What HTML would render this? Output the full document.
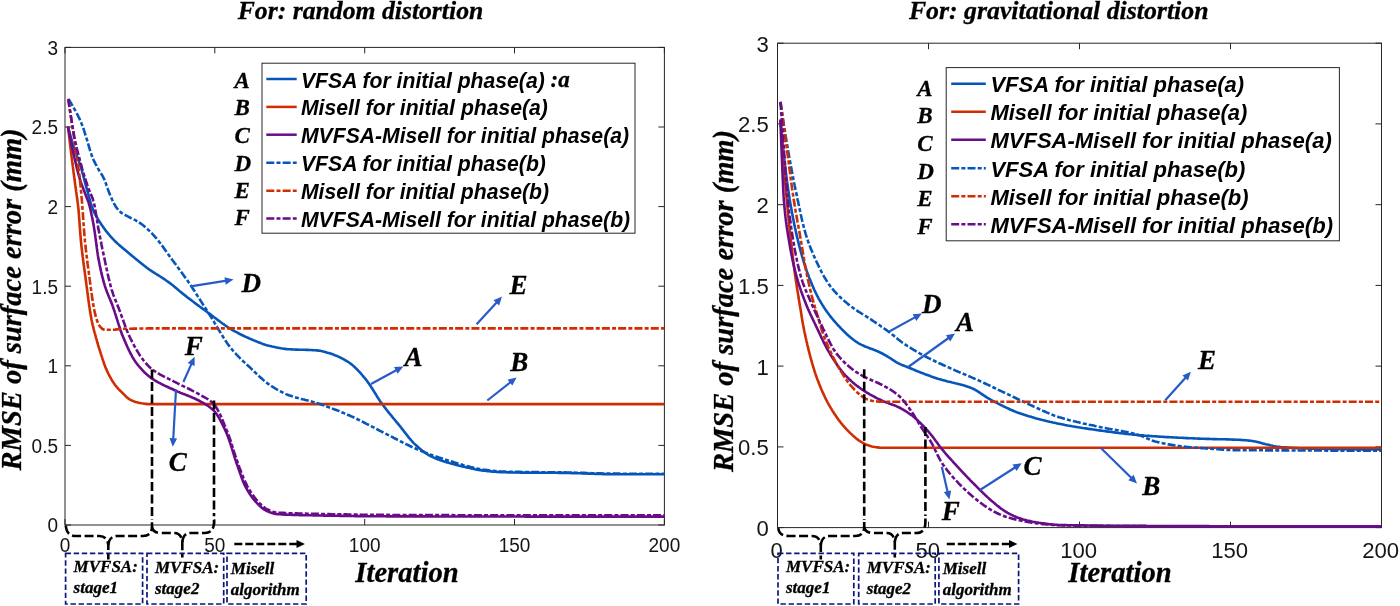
<!DOCTYPE html>
<html lang="en">
<head>
<meta charset="utf-8">
<title>RMSE of surface error vs iteration</title>
<style>
html,body{margin:0;padding:0;background:#fff;}
body{width:1400px;height:606px;overflow:hidden;}
svg{display:block;}
</style>
</head>
<body>
<svg width="1400" height="606" viewBox="0 0 1400 606">
<rect width="1400" height="606" fill="#fff"/>
<text x="360.5" y="18.7" font-family='"Liberation Serif", serif' font-size="25.7" font-weight="bold" font-style="italic" fill="#000" text-anchor="middle" stroke="#000" stroke-width="0.3">For: random distortion</text>
<text x="1058.7" y="19.3" font-family='"Liberation Serif", serif' font-size="25.8" font-weight="bold" font-style="italic" fill="#000" text-anchor="middle" stroke="#000" stroke-width="0.3">For: gravitational distortion</text>
<rect x="65.0" y="47.4" width="599.4" height="477.6" fill="#fff" stroke="#262626" stroke-width="1"/>
<path d="M65.0 525.0 h6 M664.4 525.0 h-6" stroke="#262626" stroke-width="1" fill="none"/>
<text transform="translate(58.0 532.3) scale(0.96 1)" font-family='"Liberation Sans", sans-serif' font-size="19.8" fill="#151515" text-anchor="end">0</text>
<path d="M65.0 445.4 h6 M664.4 445.4 h-6" stroke="#262626" stroke-width="1" fill="none"/>
<text transform="translate(58.0 452.7) scale(0.96 1)" font-family='"Liberation Sans", sans-serif' font-size="19.8" fill="#151515" text-anchor="end">0.5</text>
<path d="M65.0 365.8 h6 M664.4 365.8 h-6" stroke="#262626" stroke-width="1" fill="none"/>
<text transform="translate(58.0 373.1) scale(0.96 1)" font-family='"Liberation Sans", sans-serif' font-size="19.8" fill="#151515" text-anchor="end">1</text>
<path d="M65.0 286.2 h6 M664.4 286.2 h-6" stroke="#262626" stroke-width="1" fill="none"/>
<text transform="translate(58.0 293.5) scale(0.96 1)" font-family='"Liberation Sans", sans-serif' font-size="19.8" fill="#151515" text-anchor="end">1.5</text>
<path d="M65.0 206.6 h6 M664.4 206.6 h-6" stroke="#262626" stroke-width="1" fill="none"/>
<text transform="translate(58.0 213.9) scale(0.96 1)" font-family='"Liberation Sans", sans-serif' font-size="19.8" fill="#151515" text-anchor="end">2</text>
<path d="M65.0 127.0 h6 M664.4 127.0 h-6" stroke="#262626" stroke-width="1" fill="none"/>
<text transform="translate(58.0 134.3) scale(0.96 1)" font-family='"Liberation Sans", sans-serif' font-size="19.8" fill="#151515" text-anchor="end">2.5</text>
<path d="M65.0 47.4 h6 M664.4 47.4 h-6" stroke="#262626" stroke-width="1" fill="none"/>
<text transform="translate(58.0 54.7) scale(0.96 1)" font-family='"Liberation Sans", sans-serif' font-size="19.8" fill="#151515" text-anchor="end">3</text>
<path d="M65.0 525.0 v-6 M65.0 47.4 v6" stroke="#262626" stroke-width="1" fill="none"/>
<text transform="translate(65.0 552.0) scale(0.96 1)" font-family='"Liberation Sans", sans-serif' font-size="19.8" fill="#151515" text-anchor="middle">0</text>
<path d="M214.8 525.0 v-6 M214.8 47.4 v6" stroke="#262626" stroke-width="1" fill="none"/>
<text transform="translate(214.8 552.0) scale(0.96 1)" font-family='"Liberation Sans", sans-serif' font-size="19.8" fill="#151515" text-anchor="middle">50</text>
<path d="M364.7 525.0 v-6 M364.7 47.4 v6" stroke="#262626" stroke-width="1" fill="none"/>
<text transform="translate(364.7 552.0) scale(0.96 1)" font-family='"Liberation Sans", sans-serif' font-size="19.8" fill="#151515" text-anchor="middle">100</text>
<path d="M514.5 525.0 v-6 M514.5 47.4 v6" stroke="#262626" stroke-width="1" fill="none"/>
<text transform="translate(514.5 552.0) scale(0.96 1)" font-family='"Liberation Sans", sans-serif' font-size="19.8" fill="#151515" text-anchor="middle">150</text>
<path d="M664.4 525.0 v-6 M664.4 47.4 v6" stroke="#262626" stroke-width="1" fill="none"/>
<text transform="translate(664.4 552.0) scale(0.96 1)" font-family='"Liberation Sans", sans-serif' font-size="19.8" fill="#151515" text-anchor="middle">200</text>
<path d="M68.0 126.6 68.3 127.8 68.6 128.9 68.9 130.1 69.2 131.2 69.5 132.4 69.8 133.5 70.2 134.7 70.5 135.8 70.8 137.0 71.1 138.1 71.5 139.3 71.8 140.4 72.1 141.6 72.5 142.7 72.8 143.9 73.2 145.0 73.5 146.1 73.9 147.3 74.2 148.4 74.6 149.5 75.0 150.6 75.4 151.8 75.8 152.9 76.2 154.0 76.6 155.1 77.0 156.2 77.4 157.4 77.9 158.5 78.3 159.6 78.7 160.8 79.1 161.9 79.5 163.0 79.9 164.2 80.3 165.3 80.6 166.5 81.0 167.7 81.4 168.8 81.7 170.0 82.0 171.2 82.3 172.3 82.7 173.5 83.0 174.7 83.3 175.8 83.6 177.0 83.9 178.2 84.2 179.3 84.5 180.5 84.8 181.6 85.1 182.8 85.4 183.9 85.7 185.1 86.1 186.2 86.4 187.4 86.7 188.6 87.0 189.7 87.3 190.9 87.7 192.1 88.0 193.2 88.3 194.4 88.6 195.5 88.9 196.7 89.2 197.8 89.5 199.0 89.9 200.1 90.2 201.3 90.5 202.4 90.9 203.5 91.2 204.7 91.6 205.8 92.0 206.9 92.4 208.0 92.8 209.1 93.3 210.1 93.7 211.2 94.2 212.3 94.7 213.3 95.3 214.4 95.8 215.4 96.4 216.5 97.0 217.5 97.6 218.5 98.2 219.6 98.8 220.6 99.5 221.6 100.1 222.6 100.8 223.6 101.4 224.6 102.1 225.5 102.8 226.5 103.5 227.5 104.2 228.5 104.9 229.4 105.6 230.4 106.3 231.3 107.1 232.2 107.8 233.2 108.6 234.1 109.3 235.0 110.1 235.9 110.9 236.8 111.7 237.7 112.5 238.6 113.3 239.4 114.2 240.3 115.0 241.1 115.9 242.0 116.7 242.8 117.6 243.6 118.5 244.4 119.4 245.2 120.3 246.0 121.2 246.8 122.1 247.5 123.0 248.3 123.9 249.1 124.9 249.8 125.8 250.6 126.7 251.3 127.6 252.1 128.6 252.9 129.5 253.7 130.4 254.4 131.3 255.2 132.2 256.0 133.2 256.7 134.1 257.5 135.0 258.3 135.9 259.0 136.8 259.8 137.8 260.6 138.7 261.3 139.6 262.1 140.6 262.8 141.5 263.6 142.4 264.3 143.4 265.1 144.3 265.8 145.3 266.5 146.2 267.3 147.2 268.0 148.1 268.7 149.1 269.4 150.1 270.1 151.1 270.7 152.1 271.4 153.1 272.1 154.1 272.7 155.1 273.3 156.1 274.0 157.1 274.6 158.1 275.2 159.2 275.9 160.2 276.5 161.2 277.1 162.2 277.8 163.2 278.4 164.2 279.1 165.2 279.8 166.2 280.5 167.2 281.2 168.2 281.9 169.2 282.6 170.1 283.3 171.1 284.1 172.0 284.8 173.0 285.6 173.9 286.3 174.8 287.1 175.7 287.8 176.7 288.6 177.6 289.4 178.5 290.1 179.4 290.9 180.4 291.7 181.3 292.4 182.2 293.2 183.1 293.9 184.1 294.7 185.0 295.4 186.0 296.2 186.9 296.9 187.8 297.7 188.8 298.4 189.8 299.1 190.7 299.8 191.7 300.6 192.6 301.3 193.6 302.0 194.5 302.7 195.5 303.4 196.5 304.2 197.4 304.9 198.4 305.6 199.3 306.3 200.3 307.0 201.3 307.7 202.2 308.4 203.2 309.1 204.2 309.8 205.2 310.6 206.1 311.3 207.1 312.0 208.1 312.7 209.0 313.4 210.0 314.1 211.0 314.8 211.9 315.5 212.9 316.3 213.8 317.0 214.8 317.7 215.8 318.4 216.7 319.2 217.7 319.9 218.6 320.6 219.6 321.3 220.5 322.0 221.5 322.7 222.5 323.5 223.5 324.1 224.4 324.8 225.4 325.5 226.4 326.2 227.4 326.9 228.4 327.5 229.4 328.2 230.4 328.8 231.4 329.4 232.9 330.3 234.4 331.1 235.9 331.9 237.4 332.7 238.9 333.5 240.4 334.3 241.9 335.0 243.4 335.7 244.9 336.5 246.4 337.1 247.9 337.8 249.4 338.5 250.9 339.1 252.4 339.7 253.9 340.4 255.4 341.0 256.9 341.6 258.4 342.3 259.9 342.8 261.4 343.4 262.9 344.0 264.4 344.5 265.9 345.0 267.4 345.4 268.9 345.8 270.4 346.1 271.9 346.5 273.4 346.8 274.9 347.1 276.4 347.4 277.9 347.7 279.4 348.0 280.9 348.3 282.4 348.5 283.9 348.7 285.4 348.9 286.9 349.1 288.4 349.2 289.9 349.3 291.4 349.4 292.9 349.5 294.4 349.5 295.9 349.6 297.4 349.6 298.9 349.7 300.4 349.7 301.9 349.8 303.4 349.8 304.9 349.8 306.4 349.9 307.9 349.9 309.4 350.0 310.9 350.0 312.4 350.1 313.9 350.2 315.4 350.3 316.9 350.4 318.4 350.6 319.9 350.8 321.4 351.1 322.9 351.4 324.4 351.8 325.9 352.2 327.4 352.7 328.9 353.1 330.4 353.6 331.9 354.1 333.4 354.6 334.9 355.2 336.4 355.7 337.9 356.4 339.4 357.1 340.9 357.8 342.4 358.6 343.9 359.4 345.4 360.3 346.9 361.2 348.0 361.8 349.0 362.5 350.0 363.2 350.9 363.9 351.9 364.6 352.8 365.4 353.7 366.2 354.6 367.0 355.5 367.9 356.4 368.7 357.2 369.6 358.0 370.5 358.9 371.4 359.7 372.2 360.5 373.1 361.3 374.0 362.1 375.0 362.9 375.9 363.6 376.8 364.4 377.7 365.2 378.6 366.0 379.6 366.7 380.5 367.4 381.5 368.1 382.5 368.8 383.5 369.5 384.5 370.2 385.5 370.9 386.5 371.5 387.5 372.2 388.5 372.8 389.5 373.4 390.6 374.1 391.6 374.7 392.6 375.3 393.6 376.0 394.6 376.6 395.7 377.2 396.7 377.9 397.7 378.5 398.7 379.2 399.7 379.8 400.7 380.5 401.7 381.2 402.6 381.9 403.6 382.6 404.6 383.3 405.5 384.0 406.5 384.7 407.4 385.5 408.4 386.2 409.3 386.9 410.3 387.7 411.2 388.4 412.1 389.2 413.1 389.9 414.0 390.7 414.9 391.5 415.8 392.2 416.8 393.0 417.7 393.7 418.6 394.5 419.5 395.3 420.5 396.0 421.4 396.8 422.3 397.6 423.2 398.3 424.2 399.1 425.1 399.9 426.0 400.6 427.0 401.4 427.9 402.1 428.9 402.8 429.8 403.6 430.8 404.3 431.7 405.0 432.7 405.8 433.6 406.5 434.5 407.3 435.5 408.0 436.4 408.7 437.4 409.5 438.3 410.3 439.2 411.0 440.1 411.8 441.0 412.6 441.9 413.4 442.8 414.2 443.6 415.1 444.4 416.0 445.2 416.9 446.0 417.7 446.8 418.6 447.6 419.6 448.4 420.5 449.2 421.4 449.9 422.3 450.7 423.3 451.4 424.2 452.1 425.2 452.8 426.2 453.5 427.2 454.1 428.2 454.8 429.2 455.4 430.7 456.2 432.2 456.9 433.7 457.6 435.2 458.3 436.7 458.9 438.2 459.4 439.7 460.0 441.2 460.5 442.7 461.0 444.2 461.5 445.7 461.9 447.2 462.4 448.7 462.8 450.2 463.3 451.7 463.7 453.2 464.1 454.7 464.5 456.2 464.9 457.7 465.3 459.2 465.7 460.7 466.0 462.2 466.4 463.7 466.7 465.2 467.0 466.7 467.4 468.2 467.7 469.7 468.1 471.2 468.4 472.7 468.8 474.2 469.1 475.7 469.4 477.2 469.7 478.7 470.0 480.2 470.2 481.7 470.4 483.2 470.6 484.7 470.8 486.2 471.0 487.7 471.1 489.2 471.3 490.7 471.4 492.2 471.6 493.7 471.7 495.2 471.8 496.7 471.9 498.2 472.0 499.7 472.1 501.2 472.2 502.7 472.3 504.2 472.3 505.7 472.3 507.2 472.4 508.7 472.4 510.2 472.4 511.7 472.4 513.2 472.5 514.7 472.5 516.2 472.5 517.7 472.5 519.2 472.5 520.7 472.6 522.2 472.6 523.7 472.6 525.2 472.6 526.7 472.6 528.2 472.6 529.7 472.6 531.2 472.7 532.7 472.7 534.2 472.7 535.7 472.7 537.2 472.7 538.7 472.7 540.2 472.7 541.7 472.7 543.2 472.7 544.7 472.8 546.2 472.8 547.7 472.8 549.2 472.8 550.7 472.8 552.2 472.8 553.7 472.8 555.2 472.8 556.7 472.8 558.2 472.9 559.7 472.9 561.2 472.9 562.7 472.9 564.2 472.9 565.7 473.0 567.2 473.0 568.7 473.0 570.2 473.0 571.7 473.1 573.2 473.1 574.7 473.1 576.2 473.2 577.7 473.2 579.2 473.3 580.7 473.3 582.2 473.4 583.7 473.4 585.2 473.5 586.7 473.5 588.2 473.6 589.7 473.6 591.2 473.7 592.7 473.8 594.2 473.8 595.7 473.9 597.2 473.9 598.7 474.0 600.2 474.0 601.7 474.0 603.2 474.1 604.7 474.1 606.2 474.1 607.7 474.2 609.2 474.2 610.7 474.2 612.2 474.2 613.7 474.2 615.2 474.2 616.7 474.2 618.2 474.2 619.7 474.2 621.2 474.2 622.7 474.2 624.2 474.2 625.7 474.2 627.2 474.2 628.7 474.3 630.2 474.3 631.7 474.3 633.2 474.3 634.7 474.3 636.2 474.3 637.7 474.3 639.2 474.3 640.7 474.3 642.2 474.3 643.7 474.3 645.2 474.3 646.7 474.3 648.2 474.3 649.7 474.3 651.2 474.3 652.7 474.3 654.2 474.3 655.7 474.3 657.2 474.3 658.7 474.3 660.2 474.3 661.7 474.3 663.2 474.3 664.4 474.3" fill="none" stroke="#0656ba" stroke-width="2.6" stroke-linejoin="round"/>
<path d="M68.0 126.6 68.2 127.9 68.3 129.2 68.5 130.5 68.6 131.8 68.8 133.1 68.9 134.4 69.1 135.7 69.2 137.0 69.4 138.3 69.5 139.5 69.7 140.8 69.8 142.1 70.0 143.3 70.1 144.6 70.3 145.8 70.4 147.1 70.6 148.3 70.7 149.6 70.9 150.8 71.0 152.0 71.2 153.3 71.3 154.5 71.5 155.7 71.6 156.9 71.8 158.1 71.9 159.3 72.1 160.5 72.2 161.7 72.4 162.9 72.5 164.1 72.7 165.2 72.8 166.4 73.0 167.6 73.1 168.8 73.3 170.0 73.4 171.2 73.6 172.4 73.7 173.6 73.9 174.7 74.1 175.9 74.2 177.1 74.4 178.3 74.5 179.5 74.7 180.7 74.9 181.9 75.0 183.1 75.2 184.3 75.3 185.4 75.5 186.6 75.6 187.8 75.8 189.0 76.0 190.2 76.1 191.4 76.3 192.5 76.5 193.7 76.6 194.9 76.8 196.1 77.0 197.3 77.1 198.5 77.3 199.7 77.5 200.9 77.6 202.1 77.8 203.3 77.9 204.5 78.1 205.8 78.2 207.1 78.4 208.5 78.5 210.0 78.7 211.7 78.8 213.5 79.0 215.4 79.1 217.3 79.3 219.4 79.4 221.5 79.6 223.6 79.7 225.8 79.9 227.9 80.0 230.0 80.2 232.1 80.3 234.0 80.5 235.9 80.6 237.7 80.8 239.3 80.9 240.8 81.1 242.3 81.2 243.8 81.4 245.2 81.5 246.6 81.7 248.0 81.8 249.3 82.0 250.6 82.1 251.9 82.3 253.2 82.4 254.5 82.6 255.7 82.7 256.9 82.9 258.1 83.0 259.3 83.2 260.5 83.3 261.7 83.5 262.8 83.6 264.0 83.8 265.2 84.0 266.4 84.1 267.6 84.3 268.8 84.4 270.0 84.6 271.1 84.8 272.3 84.9 273.5 85.1 274.7 85.3 275.9 85.4 277.1 85.6 278.3 85.7 279.5 85.9 280.7 86.1 281.9 86.2 283.1 86.4 284.3 86.5 285.4 86.7 286.6 86.8 287.8 87.0 289.0 87.2 290.2 87.3 291.4 87.5 292.6 87.6 293.8 87.8 295.0 87.9 296.1 88.1 297.3 88.3 298.5 88.4 299.7 88.6 300.9 88.7 302.1 88.9 303.2 89.1 304.4 89.2 305.6 89.4 306.8 89.6 308.0 89.8 309.1 89.9 310.3 90.1 311.5 90.3 312.7 90.5 313.8 90.7 315.0 90.9 316.2 91.1 317.3 91.3 318.5 91.5 319.6 91.8 320.8 92.0 322.0 92.3 323.1 92.5 324.3 92.8 325.4 93.1 326.6 93.3 327.7 93.6 328.8 93.9 330.0 94.2 331.1 94.5 332.3 94.9 333.5 95.2 334.6 95.5 335.8 95.8 336.9 96.1 338.1 96.5 339.2 96.8 340.4 97.1 341.5 97.4 342.7 97.8 343.8 98.1 345.0 98.4 346.1 98.8 347.2 99.1 348.4 99.5 349.5 99.9 350.7 100.2 351.8 100.6 352.9 100.9 354.1 101.3 355.2 101.7 356.4 102.1 357.5 102.4 358.6 102.8 359.8 103.2 360.9 103.6 362.0 103.9 363.2 104.3 364.3 104.7 365.4 105.2 366.5 105.6 367.6 106.0 368.7 106.5 369.7 107.0 370.8 107.5 371.9 108.0 373.0 108.5 374.0 109.1 375.1 109.6 376.1 110.2 377.2 110.8 378.2 111.4 379.3 112.0 380.3 112.6 381.3 113.2 382.3 113.9 383.3 114.6 384.2 115.3 385.2 116.0 386.1 116.7 387.0 117.5 387.9 118.3 388.8 119.1 389.6 120.0 390.5 120.8 391.3 121.7 392.2 122.5 393.0 123.4 393.9 124.2 394.7 125.1 395.6 125.9 396.4 126.8 397.2 127.7 398.0 128.6 398.7 129.6 399.3 131.1 400.1 132.6 400.8 134.1 401.4 135.6 401.9 137.1 402.3 138.6 402.7 140.1 403.0 141.6 403.3 143.1 403.5 144.6 403.8 146.1 403.9 147.6 404.1 149.1 404.1 150.6 404.1 152.1 404.1 153.6 404.1 155.1 404.1 156.6 404.1 158.1 404.1 159.6 404.1 161.1 404.1 162.6 404.1 164.1 404.1 165.6 404.1 167.1 404.1 168.6 404.1 170.1 404.1 171.6 404.1 173.1 404.1 174.6 404.1 176.1 404.1 177.6 404.1 179.1 404.1 180.6 404.1 182.1 404.1 183.6 404.1 185.1 404.1 186.6 404.1 188.1 404.1 189.6 404.1 191.1 404.1 192.6 404.1 194.1 404.1 195.6 404.1 197.1 404.1 198.6 404.1 200.1 404.1 201.6 404.1 203.1 404.1 204.6 404.1 206.1 404.1 207.6 404.1 209.1 404.1 210.6 404.1 212.1 404.1 213.6 404.1 215.1 404.1 216.6 404.1 218.1 404.1 219.6 404.1 221.1 404.1 222.6 404.1 224.1 404.1 225.6 404.1 227.1 404.1 228.6 404.1 230.1 404.1 231.6 404.1 233.1 404.1 234.6 404.1 236.1 404.1 237.6 404.1 239.1 404.1 240.6 404.1 242.1 404.1 243.6 404.1 245.1 404.1 246.6 404.1 248.1 404.1 249.6 404.1 251.1 404.1 252.6 404.1 254.1 404.1 255.6 404.1 257.1 404.1 258.6 404.1 260.1 404.1 261.6 404.1 263.1 404.1 264.6 404.1 266.1 404.1 267.6 404.1 269.1 404.1 270.6 404.1 272.1 404.1 273.6 404.1 275.1 404.1 276.6 404.1 278.1 404.1 279.6 404.1 281.1 404.1 282.6 404.1 284.1 404.1 285.6 404.1 287.1 404.1 288.6 404.1 290.1 404.1 291.6 404.1 293.1 404.1 294.6 404.1 296.1 404.1 297.6 404.1 299.1 404.1 300.6 404.1 302.1 404.1 303.6 404.1 305.1 404.1 306.6 404.1 308.1 404.1 309.6 404.1 311.1 404.1 312.6 404.1 314.1 404.1 315.6 404.1 317.1 404.1 318.6 404.1 320.1 404.1 321.6 404.1 323.1 404.1 324.6 404.1 326.1 404.1 327.6 404.1 329.1 404.1 330.6 404.1 332.1 404.1 333.6 404.1 335.1 404.1 336.6 404.1 338.1 404.1 339.6 404.1 341.1 404.1 342.6 404.1 344.1 404.1 345.6 404.1 347.1 404.1 348.6 404.1 350.1 404.1 351.6 404.1 353.1 404.1 354.6 404.1 356.1 404.1 357.6 404.1 359.1 404.1 360.6 404.1 362.1 404.1 363.6 404.1 365.1 404.1 366.6 404.1 368.1 404.1 369.6 404.1 371.1 404.1 372.6 404.1 374.1 404.1 375.6 404.1 377.1 404.1 378.6 404.1 380.1 404.1 381.6 404.1 383.1 404.1 384.6 404.1 386.1 404.1 387.6 404.1 389.1 404.1 390.6 404.1 392.1 404.1 393.6 404.1 395.1 404.1 396.6 404.1 398.1 404.1 399.6 404.1 401.1 404.1 402.6 404.1 404.1 404.1 405.6 404.1 407.1 404.1 408.6 404.1 410.1 404.1 411.6 404.1 413.1 404.1 414.6 404.1 416.1 404.1 417.6 404.1 419.1 404.1 420.6 404.1 422.1 404.1 423.6 404.1 425.1 404.1 426.6 404.1 428.1 404.1 429.6 404.1 431.1 404.1 432.6 404.1 434.1 404.1 435.6 404.1 437.1 404.1 438.6 404.1 440.1 404.1 441.6 404.1 443.1 404.1 444.6 404.1 446.1 404.1 447.6 404.1 449.1 404.1 450.6 404.1 452.1 404.1 453.6 404.1 455.1 404.1 456.6 404.1 458.1 404.1 459.6 404.1 461.1 404.1 462.6 404.1 464.1 404.1 465.6 404.1 467.1 404.1 468.6 404.1 470.1 404.1 471.6 404.1 473.1 404.1 474.6 404.1 476.1 404.1 477.6 404.1 479.1 404.1 480.6 404.1 482.1 404.1 483.6 404.1 485.1 404.1 486.6 404.1 488.1 404.1 489.6 404.1 491.1 404.1 492.6 404.1 494.1 404.1 495.6 404.1 497.1 404.1 498.6 404.1 500.1 404.1 501.6 404.1 503.1 404.1 504.6 404.1 506.1 404.1 507.6 404.1 509.1 404.1 510.6 404.1 512.1 404.1 513.6 404.1 515.1 404.1 516.6 404.1 518.1 404.1 519.6 404.1 521.1 404.1 522.6 404.1 524.1 404.1 525.6 404.1 527.1 404.1 528.6 404.1 530.1 404.1 531.6 404.1 533.1 404.1 534.6 404.1 536.1 404.1 537.6 404.1 539.1 404.1 540.6 404.1 542.1 404.1 543.6 404.1 545.1 404.1 546.6 404.1 548.1 404.1 549.6 404.1 551.1 404.1 552.6 404.1 554.1 404.1 555.6 404.1 557.1 404.1 558.6 404.1 560.1 404.1 561.6 404.1 563.1 404.1 564.6 404.1 566.1 404.1 567.6 404.1 569.1 404.1 570.6 404.1 572.1 404.1 573.6 404.1 575.1 404.1 576.6 404.1 578.1 404.1 579.6 404.1 581.1 404.1 582.6 404.1 584.1 404.1 585.6 404.1 587.1 404.1 588.6 404.1 590.1 404.1 591.6 404.1 593.1 404.1 594.6 404.1 596.1 404.1 597.6 404.1 599.1 404.1 600.6 404.1 602.1 404.1 603.6 404.1 605.1 404.1 606.6 404.1 608.1 404.1 609.6 404.1 611.1 404.1 612.6 404.1 614.1 404.1 615.6 404.1 617.1 404.1 618.6 404.1 620.1 404.1 621.6 404.1 623.1 404.1 624.6 404.1 626.1 404.1 627.6 404.1 629.1 404.1 630.6 404.1 632.1 404.1 633.6 404.1 635.1 404.1 636.6 404.1 638.1 404.1 639.6 404.1 641.1 404.1 642.6 404.1 644.1 404.1 645.6 404.1 647.1 404.1 648.6 404.1 650.1 404.1 651.6 404.1 653.1 404.1 654.6 404.1 656.1 404.1 657.6 404.1 659.1 404.1 660.6 404.1 662.1 404.1 663.6 404.1 664.4 404.1" fill="none" stroke="#d02e02" stroke-width="2.6" stroke-linejoin="round"/>
<path d="M68.0 126.6 68.2 127.8 68.4 129.0 68.7 130.1 68.9 131.3 69.1 132.5 69.4 133.7 69.6 134.8 69.8 136.0 70.1 137.2 70.3 138.3 70.5 139.5 70.8 140.7 71.0 141.9 71.2 143.0 71.5 144.2 71.7 145.4 72.0 146.5 72.2 147.7 72.5 148.9 72.7 150.0 73.0 151.2 73.2 152.4 73.5 153.5 73.8 154.7 74.0 155.9 74.3 157.0 74.6 158.2 74.8 159.4 75.1 160.6 75.4 161.7 75.6 162.9 75.9 164.0 76.2 165.2 76.5 166.4 76.7 167.5 77.0 168.7 77.3 169.8 77.6 171.0 77.9 172.2 78.2 173.3 78.5 174.5 78.8 175.6 79.1 176.7 79.5 177.9 79.8 179.0 80.2 180.1 80.5 181.2 80.9 182.4 81.3 183.5 81.7 184.6 82.1 185.7 82.5 186.8 83.0 187.9 83.4 189.0 83.8 190.2 84.3 191.3 84.7 192.4 85.1 193.5 85.6 194.7 86.0 195.8 86.4 196.9 86.9 198.0 87.3 199.1 87.7 200.2 88.2 201.4 88.6 202.6 88.9 203.8 89.3 205.0 89.6 206.1 89.9 207.3 90.2 208.5 90.5 209.7 90.8 210.9 91.0 212.1 91.3 213.3 91.5 214.5 91.8 215.7 92.0 216.8 92.3 218.0 92.5 219.2 92.7 220.4 92.9 221.6 93.2 222.8 93.4 224.0 93.6 225.1 93.8 226.3 94.0 227.6 94.2 228.8 94.4 230.0 94.6 231.2 94.8 232.4 94.9 233.6 95.1 234.8 95.3 236.0 95.4 237.2 95.6 238.4 95.7 239.6 95.9 240.8 96.1 242.0 96.2 243.1 96.4 244.3 96.5 245.5 96.7 246.7 96.8 247.9 97.0 249.1 97.2 250.3 97.3 251.4 97.5 252.6 97.7 253.8 97.8 254.9 98.0 256.1 98.2 257.3 98.4 258.4 98.6 259.6 98.9 260.7 99.1 261.9 99.3 263.1 99.5 264.2 99.8 265.4 100.0 266.6 100.3 267.7 100.5 268.9 100.8 270.1 101.0 271.2 101.3 272.4 101.6 273.5 101.8 274.7 102.1 275.8 102.4 277.0 102.7 278.1 103.0 279.3 103.3 280.4 103.6 281.6 103.9 282.7 104.3 283.9 104.6 285.0 104.9 286.1 105.3 287.2 105.7 288.4 106.1 289.5 106.5 290.6 106.9 291.7 107.3 292.8 107.8 293.9 108.2 295.0 108.7 296.1 109.1 297.2 109.6 298.3 110.0 299.4 110.5 300.5 111.0 301.6 111.4 302.8 111.9 303.9 112.3 305.0 112.7 306.2 113.1 307.3 113.5 308.5 113.9 309.6 114.3 310.8 114.7 311.9 115.0 313.1 115.4 314.2 115.8 315.4 116.1 316.5 116.5 317.7 116.9 318.8 117.2 319.9 117.6 321.1 117.9 322.2 118.3 323.4 118.7 324.5 119.0 325.6 119.4 326.8 119.8 327.9 120.1 329.0 120.5 330.2 120.9 331.3 121.3 332.4 121.7 333.5 122.1 334.6 122.6 335.7 123.0 336.8 123.5 337.9 124.0 339.0 124.4 340.1 124.9 341.2 125.4 342.3 125.8 343.4 126.3 344.5 126.8 345.6 127.3 346.7 127.8 347.8 128.3 348.8 128.8 349.9 129.3 351.0 129.9 352.1 130.4 353.1 130.9 354.2 131.5 355.2 132.1 356.3 132.6 357.3 133.2 358.3 133.9 359.3 134.5 360.3 135.1 361.3 135.8 362.3 136.5 363.2 137.3 364.2 138.0 365.1 138.7 366.0 139.5 366.9 140.3 367.8 141.1 368.7 141.9 369.6 142.7 370.5 143.5 371.3 144.3 372.2 145.2 373.0 146.1 373.8 147.0 374.6 147.9 375.4 148.8 376.1 149.7 376.9 150.7 377.6 151.6 378.3 152.6 378.9 153.6 379.6 154.6 380.2 155.6 380.9 156.7 381.5 158.2 382.3 159.7 383.1 161.2 383.9 162.7 384.7 164.2 385.4 165.7 386.1 167.2 386.8 168.7 387.5 170.2 388.2 171.7 388.8 173.2 389.5 174.7 390.2 176.2 390.9 177.7 391.6 179.2 392.2 180.7 392.9 182.2 393.5 183.7 394.1 185.2 394.6 186.7 395.2 188.2 395.8 189.7 396.4 191.2 397.0 192.7 397.7 194.2 398.3 195.7 399.0 197.2 399.8 198.7 400.5 200.2 401.3 201.7 402.1 203.2 402.9 204.7 403.8 206.2 404.7 207.2 405.4 208.2 406.0 209.2 406.7 210.1 407.5 211.1 408.2 212.0 409.0 212.9 409.8 213.8 410.7 214.6 411.6 215.4 412.6 216.2 413.5 216.9 414.5 217.5 415.6 218.2 416.6 218.8 417.6 219.4 418.7 220.0 419.7 220.6 420.8 221.2 421.9 221.7 423.0 222.3 424.0 222.8 425.1 223.3 426.2 223.9 427.3 224.4 428.4 224.9 429.5 225.4 430.6 225.9 431.7 226.4 432.8 226.9 433.9 227.3 435.0 227.8 436.2 228.2 437.3 228.6 438.5 229.0 439.6 229.4 440.8 229.8 441.9 230.2 443.1 230.6 444.2 230.9 445.4 231.3 446.5 231.7 447.7 232.0 448.8 232.4 450.0 232.7 451.1 233.1 452.3 233.4 453.4 233.8 454.5 234.1 455.7 234.5 456.8 234.9 458.0 235.2 459.1 235.6 460.2 236.0 461.4 236.3 462.5 236.7 463.6 237.1 464.7 237.5 465.9 237.9 467.0 238.3 468.2 238.7 469.3 239.1 470.4 239.5 471.6 239.9 472.7 240.3 473.8 240.7 474.9 241.1 476.1 241.5 477.2 241.9 478.3 242.3 479.4 242.7 480.5 243.1 481.6 243.6 482.7 244.1 483.8 244.6 484.8 245.1 485.9 245.6 486.9 246.2 488.0 246.8 489.0 247.4 490.1 248.0 491.1 248.6 492.1 249.2 493.1 249.8 494.1 250.5 495.1 251.2 496.1 251.9 497.0 252.6 498.0 253.3 498.9 254.0 499.8 254.8 500.7 255.6 501.6 256.4 502.5 257.2 503.4 258.0 504.2 258.9 505.1 259.7 505.9 260.6 506.7 261.5 507.5 262.4 508.3 263.3 509.0 264.3 509.6 265.3 510.2 266.8 511.0 268.3 511.6 269.8 512.3 271.3 512.8 272.8 513.3 274.3 513.7 275.8 513.9 277.3 514.1 278.8 514.2 280.3 514.3 281.8 514.4 283.3 514.5 284.8 514.6 286.3 514.6 287.8 514.7 289.3 514.8 290.8 514.8 292.3 514.9 293.8 514.9 295.3 515.0 296.8 515.0 298.3 515.0 299.8 515.1 301.3 515.1 302.8 515.1 304.3 515.2 305.8 515.2 307.3 515.2 308.8 515.3 310.3 515.3 311.8 515.3 313.3 515.4 314.8 515.4 316.3 515.4 317.8 515.5 319.3 515.5 320.8 515.5 322.3 515.5 323.8 515.6 325.3 515.6 326.8 515.6 328.3 515.7 329.8 515.7 331.3 515.7 332.8 515.7 334.3 515.8 335.8 515.8 337.3 515.8 338.8 515.8 340.3 515.9 341.8 515.9 343.3 515.9 344.8 515.9 346.3 515.9 347.8 516.0 349.3 516.0 350.8 516.0 352.3 516.0 353.8 516.0 355.3 516.1 356.8 516.1 358.3 516.1 359.8 516.1 361.3 516.1 362.8 516.2 364.3 516.2 365.8 516.2 367.3 516.2 368.8 516.2 370.3 516.2 371.8 516.2 373.3 516.3 374.8 516.3 376.3 516.3 377.8 516.3 379.3 516.3 380.8 516.3 382.3 516.3 383.8 516.3 385.3 516.3 386.8 516.4 388.3 516.4 389.8 516.4 391.3 516.4 392.8 516.4 394.3 516.4 395.8 516.4 397.3 516.4 398.8 516.4 400.3 516.4 401.8 516.4 403.3 516.4 404.8 516.4 406.3 516.4 407.8 516.4 409.3 516.4 410.8 516.4 412.3 516.4 413.8 516.4 415.3 516.4 416.8 516.4 418.3 516.4 419.8 516.4 421.3 516.4 422.8 516.4 424.3 516.4 425.8 516.4 427.3 516.4 428.8 516.4 430.3 516.4 431.8 516.4 433.3 516.5 434.8 516.5 436.3 516.5 437.8 516.5 439.3 516.5 440.8 516.5 442.3 516.5 443.8 516.5 445.3 516.5 446.8 516.5 448.3 516.5 449.8 516.5 451.3 516.5 452.8 516.5 454.3 516.5 455.8 516.5 457.3 516.5 458.8 516.5 460.3 516.5 461.8 516.5 463.3 516.5 464.8 516.5 466.3 516.5 467.8 516.5 469.3 516.5 470.8 516.5 472.3 516.5 473.8 516.5 475.3 516.5 476.8 516.5 478.3 516.5 479.8 516.5 481.3 516.5 482.8 516.5 484.3 516.5 485.8 516.5 487.3 516.5 488.8 516.5 490.3 516.5 491.8 516.5 493.3 516.5 494.8 516.5 496.3 516.5 497.8 516.5 499.3 516.5 500.8 516.5 502.3 516.5 503.8 516.5 505.3 516.5 506.8 516.5 508.3 516.5 509.8 516.5 511.3 516.5 512.8 516.5 514.3 516.5 515.8 516.5 517.3 516.5 518.8 516.5 520.3 516.5 521.8 516.5 523.3 516.5 524.8 516.5 526.3 516.6 527.8 516.6 529.3 516.6 530.8 516.6 532.3 516.6 533.8 516.6 535.3 516.6 536.8 516.6 538.3 516.6 539.8 516.6 541.3 516.6 542.8 516.6 544.3 516.6 545.8 516.6 547.3 516.6 548.8 516.6 550.3 516.6 551.8 516.6 553.3 516.6 554.8 516.6 556.3 516.6 557.8 516.6 559.3 516.6 560.8 516.6 562.3 516.6 563.8 516.6 565.3 516.6 566.8 516.6 568.3 516.6 569.8 516.6 571.3 516.6 572.8 516.6 574.3 516.6 575.8 516.6 577.3 516.6 578.8 516.6 580.3 516.6 581.8 516.6 583.3 516.6 584.8 516.6 586.3 516.6 587.8 516.6 589.3 516.6 590.8 516.6 592.3 516.6 593.8 516.6 595.3 516.6 596.8 516.6 598.3 516.6 599.8 516.6 601.3 516.6 602.8 516.6 604.3 516.6 605.8 516.6 607.3 516.6 608.8 516.6 610.3 516.6 611.8 516.6 613.3 516.6 614.8 516.6 616.3 516.6 617.8 516.6 619.3 516.6 620.8 516.6 622.3 516.6 623.8 516.6 625.3 516.6 626.8 516.6 628.3 516.6 629.8 516.6 631.3 516.6 632.8 516.6 634.3 516.6 635.8 516.6 637.3 516.6 638.8 516.6 640.3 516.6 641.8 516.6 643.3 516.6 644.8 516.6 646.3 516.6 647.8 516.6 649.3 516.6 650.8 516.6 652.3 516.6 653.8 516.6 655.3 516.6 656.8 516.6 658.3 516.6 659.8 516.6 661.3 516.6 662.8 516.6 664.3 516.6 664.4 516.6" fill="none" stroke="#680c88" stroke-width="2.6" stroke-linejoin="round"/>
<path d="M68.3 99.0 69.0 100.0 69.7 101.0 70.3 102.0 71.0 103.0 71.6 104.1 72.2 105.1 72.8 106.2 73.4 107.2 74.0 108.3 74.6 109.3 75.2 110.4 75.8 111.4 76.3 112.5 76.9 113.6 77.5 114.6 78.0 115.7 78.5 116.8 79.1 117.9 79.6 119.0 80.1 120.1 80.6 121.2 81.1 122.3 81.5 123.5 82.0 124.6 82.4 125.7 82.9 126.9 83.3 128.0 83.6 129.2 84.0 130.4 84.4 131.5 84.7 132.7 85.1 133.8 85.4 135.0 85.8 136.1 86.1 137.3 86.5 138.4 86.9 139.5 87.2 140.7 87.6 141.8 87.9 143.0 88.3 144.2 88.6 145.3 88.9 146.5 89.3 147.6 89.6 148.8 89.9 149.9 90.3 151.1 90.6 152.2 91.0 153.3 91.4 154.4 91.7 155.5 92.2 156.6 92.6 157.7 93.0 158.8 93.5 159.9 94.0 160.9 94.5 162.0 95.1 163.0 95.6 164.1 96.2 165.1 96.7 166.2 97.3 167.2 97.9 168.3 98.5 169.3 99.1 170.3 99.7 171.4 100.3 172.4 101.0 173.4 101.6 174.4 102.3 175.4 102.9 176.5 103.4 177.6 104.0 178.7 104.5 179.8 105.0 181.0 105.4 182.1 105.8 183.3 106.2 184.4 106.6 185.6 107.0 186.7 107.4 187.8 107.8 189.0 108.2 190.1 108.6 191.2 109.0 192.3 109.5 193.4 109.9 194.5 110.4 195.6 110.8 196.7 111.3 197.8 111.8 198.9 112.3 200.0 112.8 201.0 113.3 202.1 113.8 203.1 114.4 204.2 115.0 205.2 115.5 206.2 116.2 207.2 116.8 208.1 117.6 209.0 118.3 209.9 119.1 210.8 120.0 211.6 120.8 212.4 121.8 213.1 122.8 213.7 123.8 214.3 125.3 215.1 126.8 215.9 128.3 216.7 129.8 217.5 131.3 218.2 132.8 218.9 134.3 219.6 135.8 220.4 137.3 221.3 138.8 222.2 139.8 222.9 140.8 223.6 141.8 224.3 142.7 225.0 143.7 225.8 144.6 226.6 145.5 227.3 146.4 228.1 147.3 228.9 148.2 229.8 149.1 230.6 150.0 231.4 150.8 232.3 151.7 233.1 152.5 234.0 153.3 234.9 154.1 235.8 154.9 236.7 155.7 237.6 156.5 238.5 157.2 239.5 158.0 240.4 158.8 241.3 159.5 242.3 160.3 243.2 161.0 244.2 161.7 245.2 162.4 246.1 163.1 247.1 163.8 248.1 164.5 249.1 165.2 250.1 165.9 251.0 166.6 252.0 167.3 253.0 168.0 254.0 168.7 254.9 169.4 255.9 170.1 256.9 170.8 257.8 171.5 258.8 172.2 259.8 172.9 260.7 173.7 261.7 174.4 262.7 175.1 263.6 175.8 264.6 176.5 265.6 177.2 266.5 177.9 267.5 178.7 268.5 179.4 269.4 180.1 270.4 180.8 271.4 181.5 272.3 182.2 273.3 182.9 274.3 183.6 275.2 184.3 276.2 185.0 277.2 185.7 278.2 186.4 279.2 187.1 280.1 187.8 281.1 188.5 282.1 189.1 283.1 189.8 284.1 190.5 285.1 191.2 286.1 191.8 287.1 192.5 288.1 193.1 289.1 193.8 290.1 194.5 291.1 195.1 292.1 195.8 293.1 196.4 294.2 197.1 295.2 197.7 296.2 198.4 297.2 199.0 298.2 199.7 299.2 200.3 300.2 201.0 301.2 201.6 302.2 202.3 303.3 202.9 304.3 203.5 305.3 204.2 306.3 204.8 307.3 205.5 308.3 206.1 309.3 206.8 310.3 207.4 311.3 208.1 312.3 208.7 313.4 209.4 314.4 210.0 315.4 210.7 316.4 211.3 317.4 211.9 318.5 212.5 319.5 213.2 320.5 213.8 321.5 214.4 322.6 215.0 323.6 215.6 324.6 216.3 325.7 216.9 326.7 217.5 327.7 218.1 328.7 218.7 329.8 219.3 330.8 220.0 331.8 220.6 332.8 221.2 333.9 221.8 334.9 222.5 335.9 223.1 336.9 223.7 337.9 224.4 338.9 225.0 339.9 225.7 340.9 226.4 341.9 227.0 342.9 227.7 343.9 228.4 344.9 229.1 345.8 229.8 346.8 230.6 347.7 231.3 348.6 232.1 349.5 232.8 350.5 233.6 351.4 234.4 352.3 235.2 353.1 236.0 354.0 236.8 354.9 237.7 355.7 238.5 356.6 239.3 357.4 240.2 358.3 241.0 359.1 241.9 359.9 242.8 360.8 243.6 361.6 244.5 362.4 245.4 363.2 246.3 364.0 247.2 364.9 248.0 365.7 248.9 366.5 249.8 367.3 250.7 368.1 251.5 369.0 252.4 369.8 253.3 370.6 254.1 371.5 255.0 372.3 255.9 373.1 256.7 374.0 257.6 374.8 258.5 375.6 259.3 376.4 260.2 377.2 261.1 378.0 262.0 378.8 262.9 379.6 263.8 380.4 264.7 381.2 265.6 381.9 266.6 382.7 267.5 383.4 268.5 384.1 269.5 384.8 270.5 385.4 271.5 386.1 272.5 386.7 273.5 387.4 274.5 388.0 275.5 388.6 277.0 389.5 278.5 390.3 280.0 391.1 281.5 391.9 283.0 392.7 284.5 393.4 286.0 394.1 287.5 394.7 289.0 395.3 290.5 395.8 292.0 396.3 293.5 396.8 295.0 397.3 296.5 397.7 298.0 398.1 299.5 398.5 301.0 398.9 302.5 399.3 304.0 399.6 305.5 400.0 307.0 400.3 308.5 400.7 310.0 401.1 311.5 401.5 313.0 401.9 314.5 402.3 316.0 402.8 317.5 403.3 319.0 403.8 320.5 404.3 322.0 404.8 323.5 405.3 325.0 405.8 326.5 406.4 328.0 406.9 329.5 407.5 331.0 408.0 332.5 408.6 334.0 409.2 335.5 409.7 337.0 410.3 338.5 410.9 340.0 411.5 341.5 412.2 343.0 412.8 344.5 413.4 346.0 414.0 347.5 414.7 349.0 415.3 350.5 416.0 352.0 416.6 353.5 417.3 355.0 418.0 356.5 418.8 358.0 419.5 359.5 420.2 361.0 421.0 362.5 421.7 364.0 422.5 365.5 423.3 367.0 424.1 368.5 424.8 370.0 425.6 371.5 426.4 373.0 427.2 374.5 428.0 376.0 428.7 377.5 429.5 379.0 430.3 380.5 431.1 382.0 431.8 383.5 432.6 385.0 433.3 386.5 434.1 388.0 434.9 389.5 435.6 391.0 436.4 392.5 437.2 394.0 438.0 395.5 438.7 397.0 439.5 398.5 440.3 400.0 441.1 401.5 441.8 403.0 442.6 404.5 443.3 406.0 444.1 407.5 444.8 409.0 445.5 410.5 446.3 412.0 447.0 413.5 447.6 415.0 448.3 416.5 449.0 418.0 449.6 419.5 450.3 421.0 450.9 422.5 451.5 424.0 452.1 425.5 452.7 427.0 453.3 428.5 453.9 430.0 454.5 431.5 455.0 433.0 455.5 434.5 456.1 436.0 456.6 437.5 457.1 439.0 457.6 440.5 458.0 442.0 458.5 443.5 459.0 445.0 459.5 446.5 459.9 448.0 460.4 449.5 460.9 451.0 461.3 452.5 461.8 454.0 462.3 455.5 462.7 457.0 463.2 458.5 463.7 460.0 464.1 461.5 464.5 463.0 465.0 464.5 465.4 466.0 465.8 467.5 466.2 469.0 466.6 470.5 467.0 472.0 467.3 473.5 467.7 475.0 468.1 476.5 468.4 478.0 468.7 479.5 469.0 481.0 469.3 482.5 469.5 484.0 469.7 485.5 469.9 487.0 470.1 488.5 470.3 490.0 470.5 491.5 470.7 493.0 470.8 494.5 471.0 496.0 471.1 497.5 471.2 499.0 471.4 500.5 471.5 502.0 471.5 503.5 471.6 505.0 471.6 506.5 471.7 508.0 471.7 509.5 471.7 511.0 471.8 512.5 471.8 514.0 471.8 515.5 471.9 517.0 471.9 518.5 471.9 520.0 471.9 521.5 472.0 523.0 472.0 524.5 472.0 526.0 472.0 527.5 472.0 529.0 472.1 530.5 472.1 532.0 472.1 533.5 472.1 535.0 472.1 536.5 472.1 538.0 472.1 539.5 472.2 541.0 472.2 542.5 472.2 544.0 472.2 545.5 472.2 547.0 472.2 548.5 472.2 550.0 472.3 551.5 472.3 553.0 472.3 554.5 472.3 556.0 472.3 557.5 472.3 559.0 472.3 560.5 472.4 562.0 472.4 563.5 472.4 565.0 472.4 566.5 472.5 568.0 472.5 569.5 472.5 571.0 472.5 572.5 472.6 574.0 472.6 575.5 472.7 577.0 472.7 578.5 472.7 580.0 472.8 581.5 472.8 583.0 472.9 584.5 472.9 586.0 473.0 587.5 473.0 589.0 473.1 590.5 473.1 592.0 473.2 593.5 473.2 595.0 473.3 596.5 473.3 598.0 473.3 599.5 473.4 601.0 473.4 602.5 473.5 604.0 473.5 605.5 473.5 607.0 473.5 608.5 473.6 610.0 473.6 611.5 473.6 613.0 473.6 614.5 473.6 616.0 473.6 617.5 473.6 619.0 473.6 620.5 473.7 622.0 473.7 623.5 473.7 625.0 473.7 626.5 473.7 628.0 473.7 629.5 473.7 631.0 473.7 632.5 473.7 634.0 473.7 635.5 473.7 637.0 473.7 638.5 473.7 640.0 473.8 641.5 473.8 643.0 473.8 644.5 473.8 646.0 473.8 647.5 473.8 649.0 473.8 650.5 473.8 652.0 473.8 653.5 473.8 655.0 473.8 656.5 473.8 658.0 473.8 659.5 473.8 661.0 473.8 662.5 473.8 664.0 473.8 664.4 473.8" fill="none" stroke="#0656ba" stroke-width="2.6" stroke-dasharray="8 2.2 4 2.1" stroke-linejoin="round"/>
<path d="M68.3 99.0 68.5 100.2 68.7 101.4 68.8 102.6 69.0 103.8 69.2 104.9 69.4 106.1 69.6 107.3 69.8 108.5 69.9 109.7 70.1 110.9 70.3 112.1 70.5 113.3 70.7 114.4 70.8 115.6 71.0 116.8 71.2 118.0 71.4 119.2 71.5 120.4 71.7 121.6 71.9 122.8 72.1 123.9 72.2 125.1 72.4 126.3 72.6 127.5 72.8 128.7 72.9 129.9 73.1 131.1 73.3 132.3 73.5 133.5 73.6 134.6 73.8 135.8 74.0 137.0 74.1 138.2 74.3 139.4 74.5 140.6 74.7 141.8 74.8 143.0 75.0 144.2 75.2 145.3 75.3 146.5 75.5 147.7 75.7 148.9 75.9 150.1 76.0 151.3 76.2 152.4 76.4 153.6 76.6 154.8 76.7 156.0 76.9 157.2 77.1 158.4 77.3 159.6 77.4 160.8 77.6 162.0 77.8 163.2 77.9 164.4 78.1 165.6 78.3 166.7 78.4 167.9 78.6 169.1 78.8 170.3 78.9 171.5 79.1 172.7 79.2 174.0 79.4 175.2 79.5 176.5 79.7 177.7 79.8 179.0 80.0 180.4 80.1 181.8 80.3 183.2 80.4 184.7 80.6 186.2 80.7 187.8 80.9 189.4 81.0 191.0 81.2 192.7 81.3 194.3 81.5 196.0 81.6 197.7 81.8 199.5 81.9 201.2 82.1 203.1 82.2 205.0 82.4 207.0 82.5 209.0 82.7 211.1 82.8 213.2 83.0 215.4 83.1 217.5 83.3 219.7 83.4 221.8 83.6 224.0 83.7 226.1 83.9 228.1 84.0 230.1 84.2 232.1 84.3 234.0 84.5 235.8 84.6 237.5 84.8 239.1 84.9 240.7 85.1 242.2 85.2 243.6 85.4 245.1 85.5 246.5 85.7 247.8 85.8 249.2 86.0 250.5 86.1 251.8 86.3 253.1 86.4 254.3 86.6 255.6 86.7 256.8 86.9 258.0 87.0 259.2 87.2 260.3 87.3 261.5 87.5 262.7 87.6 263.9 87.8 265.1 87.9 266.3 88.1 267.4 88.3 268.6 88.4 269.8 88.6 271.0 88.8 272.2 88.9 273.4 89.1 274.6 89.2 275.8 89.4 277.0 89.6 278.2 89.7 279.4 89.9 280.5 90.0 281.7 90.2 282.9 90.3 284.1 90.5 285.3 90.7 286.5 90.8 287.7 91.0 288.9 91.1 290.1 91.3 291.3 91.4 292.4 91.6 293.6 91.8 294.8 91.9 296.0 92.1 297.2 92.3 298.3 92.4 299.5 92.6 300.7 92.8 301.8 93.0 303.0 93.2 304.2 93.4 305.3 93.6 306.5 93.8 307.6 94.0 308.8 94.3 310.0 94.5 311.1 94.8 312.3 95.0 313.4 95.3 314.6 95.5 315.7 95.8 316.8 96.2 317.9 96.5 319.0 96.9 320.1 97.3 321.2 97.7 322.3 98.2 323.4 98.7 324.4 99.2 325.4 99.8 326.3 100.6 327.2 101.4 328.0 102.2 328.8 103.2 329.4 104.7 329.6 106.2 329.7 107.7 329.8 109.2 329.8 110.7 329.8 112.2 329.7 113.7 329.7 115.2 329.6 116.7 329.4 118.2 329.3 119.7 329.1 121.2 329.0 122.7 328.9 124.2 328.8 125.7 328.8 127.2 328.8 128.7 328.7 130.2 328.7 131.7 328.7 133.2 328.6 134.7 328.6 136.2 328.6 137.7 328.6 139.2 328.5 140.7 328.5 142.2 328.5 143.7 328.5 145.2 328.5 146.7 328.5 148.2 328.4 149.7 328.4 151.2 328.4 152.7 328.4 154.2 328.4 155.7 328.4 157.2 328.4 158.7 328.4 160.2 328.4 161.7 328.4 163.2 328.4 164.7 328.4 166.2 328.4 167.7 328.4 169.2 328.4 170.7 328.4 172.2 328.4 173.7 328.4 175.2 328.4 176.7 328.4 178.2 328.4 179.7 328.4 181.2 328.4 182.7 328.4 184.2 328.4 185.7 328.4 187.2 328.4 188.7 328.4 190.2 328.4 191.7 328.4 193.2 328.4 194.7 328.4 196.2 328.4 197.7 328.4 199.2 328.4 200.7 328.4 202.2 328.4 203.7 328.4 205.2 328.4 206.7 328.4 208.2 328.4 209.7 328.4 211.2 328.4 212.7 328.4 214.2 328.4 215.7 328.4 217.2 328.4 218.7 328.4 220.2 328.4 221.7 328.4 223.2 328.4 224.7 328.4 226.2 328.4 227.7 328.4 229.2 328.4 230.7 328.4 232.2 328.4 233.7 328.4 235.2 328.4 236.7 328.4 238.2 328.4 239.7 328.4 241.2 328.4 242.7 328.4 244.2 328.4 245.7 328.4 247.2 328.4 248.7 328.4 250.2 328.4 251.7 328.4 253.2 328.4 254.7 328.4 256.2 328.4 257.7 328.4 259.2 328.4 260.7 328.4 262.2 328.4 263.7 328.4 265.2 328.4 266.7 328.4 268.2 328.4 269.7 328.4 271.2 328.4 272.7 328.4 274.2 328.4 275.7 328.4 277.2 328.4 278.7 328.4 280.2 328.4 281.7 328.4 283.2 328.4 284.7 328.4 286.2 328.4 287.7 328.4 289.2 328.4 290.7 328.4 292.2 328.4 293.7 328.4 295.2 328.4 296.7 328.4 298.2 328.4 299.7 328.4 301.2 328.4 302.7 328.4 304.2 328.4 305.7 328.4 307.2 328.4 308.7 328.4 310.2 328.4 311.7 328.4 313.2 328.4 314.7 328.4 316.2 328.4 317.7 328.4 319.2 328.4 320.7 328.4 322.2 328.4 323.7 328.4 325.2 328.4 326.7 328.4 328.2 328.4 329.7 328.4 331.2 328.4 332.7 328.4 334.2 328.4 335.7 328.4 337.2 328.4 338.7 328.4 340.2 328.4 341.7 328.4 343.2 328.4 344.7 328.4 346.2 328.4 347.7 328.4 349.2 328.4 350.7 328.4 352.2 328.4 353.7 328.4 355.2 328.4 356.7 328.4 358.2 328.4 359.7 328.4 361.2 328.4 362.7 328.4 364.2 328.4 365.7 328.4 367.2 328.4 368.7 328.4 370.2 328.4 371.7 328.4 373.2 328.4 374.7 328.4 376.2 328.4 377.7 328.4 379.2 328.4 380.7 328.4 382.2 328.4 383.7 328.4 385.2 328.4 386.7 328.4 388.2 328.4 389.7 328.4 391.2 328.4 392.7 328.4 394.2 328.4 395.7 328.4 397.2 328.4 398.7 328.4 400.2 328.4 401.7 328.4 403.2 328.4 404.7 328.4 406.2 328.4 407.7 328.4 409.2 328.4 410.7 328.4 412.2 328.4 413.7 328.4 415.2 328.4 416.7 328.4 418.2 328.4 419.7 328.4 421.2 328.4 422.7 328.4 424.2 328.4 425.7 328.4 427.2 328.4 428.7 328.4 430.2 328.4 431.7 328.4 433.2 328.4 434.7 328.4 436.2 328.4 437.7 328.4 439.2 328.4 440.7 328.4 442.2 328.4 443.7 328.4 445.2 328.4 446.7 328.4 448.2 328.4 449.7 328.4 451.2 328.4 452.7 328.4 454.2 328.4 455.7 328.4 457.2 328.4 458.7 328.4 460.2 328.4 461.7 328.4 463.2 328.4 464.7 328.4 466.2 328.4 467.7 328.4 469.2 328.4 470.7 328.4 472.2 328.4 473.7 328.4 475.2 328.4 476.7 328.4 478.2 328.4 479.7 328.4 481.2 328.4 482.7 328.4 484.2 328.4 485.7 328.4 487.2 328.4 488.7 328.4 490.2 328.4 491.7 328.4 493.2 328.4 494.7 328.4 496.2 328.4 497.7 328.4 499.2 328.4 500.7 328.4 502.2 328.4 503.7 328.4 505.2 328.4 506.7 328.4 508.2 328.4 509.7 328.4 511.2 328.4 512.7 328.4 514.2 328.4 515.7 328.4 517.2 328.4 518.7 328.4 520.2 328.4 521.7 328.4 523.2 328.4 524.7 328.4 526.2 328.4 527.7 328.4 529.2 328.4 530.7 328.4 532.2 328.4 533.7 328.4 535.2 328.4 536.7 328.4 538.2 328.4 539.7 328.4 541.2 328.4 542.7 328.4 544.2 328.4 545.7 328.4 547.2 328.4 548.7 328.4 550.2 328.4 551.7 328.4 553.2 328.4 554.7 328.4 556.2 328.4 557.7 328.4 559.2 328.4 560.7 328.4 562.2 328.4 563.7 328.4 565.2 328.4 566.7 328.4 568.2 328.4 569.7 328.4 571.2 328.4 572.7 328.4 574.2 328.4 575.7 328.4 577.2 328.4 578.7 328.4 580.2 328.4 581.7 328.4 583.2 328.4 584.7 328.4 586.2 328.4 587.7 328.4 589.2 328.4 590.7 328.4 592.2 328.4 593.7 328.4 595.2 328.4 596.7 328.4 598.2 328.4 599.7 328.4 601.2 328.4 602.7 328.4 604.2 328.4 605.7 328.4 607.2 328.4 608.7 328.4 610.2 328.4 611.7 328.4 613.2 328.4 614.7 328.4 616.2 328.4 617.7 328.4 619.2 328.4 620.7 328.4 622.2 328.4 623.7 328.4 625.2 328.4 626.7 328.4 628.2 328.4 629.7 328.4 631.2 328.4 632.7 328.4 634.2 328.4 635.7 328.4 637.2 328.4 638.7 328.4 640.2 328.4 641.7 328.4 643.2 328.4 644.7 328.4 646.2 328.4 647.7 328.4 649.2 328.4 650.7 328.4 652.2 328.4 653.7 328.4 655.2 328.4 656.7 328.4 658.2 328.4 659.7 328.4 661.2 328.4 662.7 328.4 664.2 328.4 664.4 328.4" fill="none" stroke="#d02e02" stroke-width="2.6" stroke-dasharray="8 2.2 4 2.1" stroke-linejoin="round"/>
<path d="M68.3 99.0 68.5 100.2 68.6 101.4 68.8 102.6 69.0 103.7 69.1 104.9 69.3 106.1 69.5 107.3 69.7 108.5 69.8 109.7 70.0 110.8 70.2 112.0 70.4 113.2 70.5 114.4 70.7 115.6 70.9 116.7 71.1 117.9 71.3 119.1 71.5 120.3 71.6 121.5 71.8 122.6 72.0 123.8 72.2 125.0 72.4 126.2 72.6 127.3 72.8 128.5 73.0 129.7 73.2 130.9 73.5 132.0 73.7 133.2 73.9 134.4 74.1 135.6 74.3 136.7 74.6 137.9 74.8 139.0 75.0 140.2 75.3 141.4 75.5 142.5 75.8 143.7 76.0 144.9 76.3 146.0 76.6 147.2 76.8 148.3 77.1 149.5 77.4 150.7 77.7 151.8 78.0 153.0 78.3 154.1 78.6 155.3 78.9 156.4 79.2 157.6 79.5 158.7 79.8 159.9 80.1 161.1 80.4 162.2 80.7 163.4 81.0 164.5 81.4 165.7 81.7 166.8 82.0 168.0 82.3 169.1 82.7 170.3 83.0 171.4 83.4 172.5 83.7 173.7 84.0 174.8 84.4 176.0 84.7 177.1 85.1 178.3 85.5 179.4 85.8 180.5 86.2 181.7 86.6 182.8 87.0 183.9 87.3 185.1 87.7 186.2 88.1 187.3 88.5 188.4 88.9 189.6 89.3 190.6 89.8 191.7 90.2 192.8 90.7 193.9 91.2 195.0 91.7 196.1 92.1 197.3 92.6 198.4 93.0 199.6 93.3 200.8 93.7 202.0 94.0 203.2 94.3 204.5 94.6 205.7 94.8 206.9 95.0 208.1 95.2 209.3 95.4 210.5 95.6 211.7 95.8 212.9 96.0 214.1 96.2 215.3 96.4 216.5 96.6 217.7 96.8 218.9 97.0 220.0 97.2 221.2 97.4 222.4 97.5 223.6 97.7 224.8 97.9 225.9 98.1 227.1 98.3 228.3 98.5 229.4 98.8 230.6 99.0 231.8 99.2 232.9 99.4 234.1 99.7 235.3 99.9 236.5 100.1 237.6 100.4 238.8 100.6 240.0 100.8 241.2 101.1 242.3 101.3 243.5 101.5 244.7 101.8 245.9 102.0 247.0 102.2 248.2 102.5 249.4 102.7 250.5 103.0 251.7 103.2 252.9 103.5 254.1 103.7 255.2 104.0 256.4 104.2 257.6 104.5 258.7 104.7 259.9 105.0 261.1 105.2 262.3 105.5 263.4 105.7 264.6 106.0 265.8 106.2 267.0 106.5 268.1 106.7 269.3 107.0 270.5 107.2 271.6 107.5 272.8 107.7 274.0 108.0 275.1 108.3 276.3 108.5 277.5 108.8 278.6 109.1 279.8 109.4 280.9 109.6 282.1 109.9 283.2 110.2 284.4 110.5 285.5 110.8 286.7 111.1 287.8 111.5 288.9 111.8 290.1 112.2 291.2 112.6 292.3 112.9 293.4 113.3 294.6 113.7 295.7 114.1 296.8 114.6 297.9 115.0 299.0 115.4 300.1 115.9 301.2 116.3 302.3 116.8 303.4 117.2 304.5 117.7 305.7 118.1 306.8 118.6 307.9 119.0 309.0 119.5 310.2 119.9 311.3 120.3 312.4 120.7 313.5 121.1 314.7 121.5 315.8 121.9 316.9 122.3 318.1 122.8 319.2 123.2 320.3 123.6 321.5 124.0 322.6 124.4 323.7 124.8 324.8 125.2 326.0 125.6 327.1 126.0 328.2 126.5 329.3 126.9 330.4 127.3 331.5 127.8 332.6 128.3 333.7 128.7 334.8 129.2 335.8 129.7 336.9 130.3 338.0 130.8 339.1 131.3 340.1 131.8 341.2 132.4 342.3 132.9 343.3 133.5 344.4 134.0 345.4 134.6 346.5 135.2 347.5 135.8 348.6 136.4 349.6 137.0 350.6 137.6 351.7 138.2 352.7 138.8 353.7 139.5 354.7 140.1 355.7 140.8 356.6 141.5 357.6 142.2 358.6 142.9 359.5 143.6 360.5 144.4 361.4 145.1 362.3 145.9 363.2 146.7 364.1 147.4 365.0 148.3 365.9 149.1 366.7 150.0 367.5 150.8 368.3 151.8 369.0 152.7 369.8 153.7 370.5 154.6 371.1 155.6 371.8 156.6 372.5 157.7 373.1 158.7 373.7 160.2 374.6 161.7 375.4 163.2 376.2 164.7 376.9 166.2 377.7 167.7 378.4 169.2 379.1 170.7 379.9 172.2 380.6 173.7 381.4 175.2 382.1 176.7 382.9 178.2 383.7 179.7 384.4 181.2 385.2 182.7 385.9 184.2 386.6 185.7 387.4 187.2 388.1 188.7 388.8 190.2 389.5 191.7 390.3 193.2 391.1 194.7 391.8 196.2 392.6 197.7 393.5 199.2 394.3 200.7 395.2 202.2 396.0 203.7 396.8 205.2 397.6 206.7 398.5 207.7 399.1 208.7 399.8 209.7 400.5 210.7 401.3 211.6 402.0 212.5 402.8 213.4 403.7 214.2 404.6 215.0 405.6 215.7 406.6 216.4 407.6 217.0 408.7 217.7 409.8 218.2 410.8 218.8 411.9 219.3 413.0 219.9 414.1 220.4 415.2 220.9 416.3 221.4 417.4 221.8 418.5 222.3 419.6 222.8 420.7 223.2 421.9 223.7 423.0 224.2 424.1 224.6 425.2 225.1 426.3 225.5 427.4 226.0 428.5 226.4 429.7 226.9 430.8 227.3 431.9 227.8 433.0 228.2 434.1 228.7 435.3 229.1 436.4 229.5 437.6 229.9 438.7 230.3 439.8 230.7 441.0 231.0 442.1 231.4 443.3 231.8 444.4 232.1 445.6 232.5 446.7 232.9 447.9 233.2 449.0 233.6 450.2 233.9 451.3 234.3 452.5 234.7 453.6 235.0 454.7 235.4 455.9 235.8 457.0 236.1 458.1 236.5 459.3 236.9 460.4 237.3 461.5 237.7 462.7 238.1 463.8 238.5 464.9 238.9 466.0 239.3 467.1 239.7 468.2 240.2 469.4 240.6 470.5 241.0 471.6 241.4 472.7 241.9 473.8 242.3 474.9 242.7 476.1 243.2 477.2 243.6 478.3 244.1 479.4 244.6 480.4 245.1 481.5 245.5 482.6 246.1 483.7 246.6 484.7 247.1 485.8 247.7 486.8 248.3 487.8 248.9 488.9 249.5 489.9 250.1 490.9 250.7 491.9 251.4 492.9 252.0 493.9 252.7 494.9 253.4 495.9 254.1 496.8 254.8 497.7 255.5 498.7 256.3 499.6 257.1 500.4 257.9 501.3 258.7 502.2 259.5 503.1 260.4 503.9 261.2 504.7 262.1 505.5 263.0 506.3 263.9 507.1 264.8 507.8 265.8 508.5 266.8 509.1 268.3 509.8 269.8 510.5 271.3 511.1 272.8 511.7 274.3 512.1 275.8 512.4 277.3 512.6 278.8 512.7 280.3 512.8 281.8 512.9 283.3 512.9 284.8 513.0 286.3 513.1 287.8 513.2 289.3 513.2 290.8 513.3 292.3 513.3 293.8 513.3 295.3 513.4 296.8 513.4 298.3 513.5 299.8 513.5 301.3 513.5 302.8 513.6 304.3 513.6 305.8 513.6 307.3 513.7 308.8 513.7 310.3 513.7 311.8 513.8 313.3 513.8 314.8 513.8 316.3 513.9 317.8 513.9 319.3 513.9 320.8 514.0 322.3 514.0 323.8 514.0 325.3 514.0 326.8 514.1 328.3 514.1 329.8 514.1 331.3 514.2 332.8 514.2 334.3 514.2 335.8 514.3 337.3 514.3 338.8 514.3 340.3 514.3 341.8 514.4 343.3 514.4 344.8 514.4 346.3 514.4 347.8 514.5 349.3 514.5 350.8 514.5 352.3 514.5 353.8 514.6 355.3 514.6 356.8 514.6 358.3 514.6 359.8 514.6 361.3 514.7 362.8 514.7 364.3 514.7 365.8 514.7 367.3 514.7 368.8 514.8 370.3 514.8 371.8 514.8 373.3 514.8 374.8 514.8 376.3 514.8 377.8 514.9 379.3 514.9 380.8 514.9 382.3 514.9 383.8 514.9 385.3 514.9 386.8 514.9 388.3 514.9 389.8 515.0 391.3 515.0 392.8 515.0 394.3 515.0 395.8 515.0 397.3 515.0 398.8 515.0 400.3 515.0 401.8 515.0 403.3 515.0 404.8 515.0 406.3 515.0 407.8 515.0 409.3 515.0 410.8 515.0 412.3 515.0 413.8 515.0 415.3 515.0 416.8 515.1 418.3 515.1 419.8 515.1 421.3 515.1 422.8 515.1 424.3 515.1 425.8 515.1 427.3 515.1 428.8 515.1 430.3 515.1 431.8 515.1 433.3 515.1 434.8 515.1 436.3 515.1 437.8 515.1 439.3 515.1 440.8 515.1 442.3 515.1 443.8 515.1 445.3 515.1 446.8 515.1 448.3 515.1 449.8 515.1 451.3 515.1 452.8 515.1 454.3 515.2 455.8 515.2 457.3 515.2 458.8 515.2 460.3 515.2 461.8 515.2 463.3 515.2 464.8 515.2 466.3 515.2 467.8 515.2 469.3 515.2 470.8 515.2 472.3 515.2 473.8 515.2 475.3 515.2 476.8 515.2 478.3 515.2 479.8 515.2 481.3 515.2 482.8 515.2 484.3 515.2 485.8 515.2 487.3 515.2 488.8 515.2 490.3 515.2 491.8 515.2 493.3 515.2 494.8 515.2 496.3 515.2 497.8 515.2 499.3 515.2 500.8 515.3 502.3 515.3 503.8 515.3 505.3 515.3 506.8 515.3 508.3 515.3 509.8 515.3 511.3 515.3 512.8 515.3 514.3 515.3 515.8 515.3 517.3 515.3 518.8 515.3 520.3 515.3 521.8 515.3 523.3 515.3 524.8 515.3 526.3 515.3 527.8 515.3 529.3 515.3 530.8 515.3 532.3 515.3 533.8 515.3 535.3 515.3 536.8 515.3 538.3 515.3 539.8 515.3 541.3 515.3 542.8 515.3 544.3 515.3 545.8 515.3 547.3 515.3 548.8 515.3 550.3 515.3 551.8 515.3 553.3 515.3 554.8 515.3 556.3 515.3 557.8 515.3 559.3 515.3 560.8 515.3 562.3 515.3 563.8 515.3 565.3 515.3 566.8 515.3 568.3 515.3 569.8 515.4 571.3 515.4 572.8 515.4 574.3 515.4 575.8 515.4 577.3 515.4 578.8 515.4 580.3 515.4 581.8 515.4 583.3 515.4 584.8 515.4 586.3 515.4 587.8 515.4 589.3 515.4 590.8 515.4 592.3 515.4 593.8 515.4 595.3 515.4 596.8 515.4 598.3 515.4 599.8 515.4 601.3 515.4 602.8 515.4 604.3 515.4 605.8 515.4 607.3 515.4 608.8 515.4 610.3 515.4 611.8 515.4 613.3 515.4 614.8 515.4 616.3 515.4 617.8 515.4 619.3 515.4 620.8 515.4 622.3 515.4 623.8 515.4 625.3 515.4 626.8 515.4 628.3 515.4 629.8 515.4 631.3 515.4 632.8 515.4 634.3 515.4 635.8 515.4 637.3 515.4 638.8 515.4 640.3 515.4 641.8 515.4 643.3 515.4 644.8 515.4 646.3 515.4 647.8 515.4 649.3 515.4 650.8 515.4 652.3 515.4 653.8 515.4 655.3 515.4 656.8 515.4 658.3 515.4 659.8 515.4 661.3 515.4 662.8 515.4 664.3 515.4 664.4 515.4" fill="none" stroke="#680c88" stroke-width="2.6" stroke-dasharray="8 2.2 4 2.1" stroke-linejoin="round"/>
<rect x="262.0" y="63.2" width="373.0" height="170.0" fill="#fff" stroke="#262626" stroke-width="1"/>
<path d="M266.3 79.0 H296.7" stroke="#0656ba" stroke-width="2.5" fill="none"/>
<text x="301.0" y="87.6" font-family='"Liberation Sans", sans-serif' font-size="21.9" font-weight="bold" font-style="italic" fill="#000" textLength="243.7" lengthAdjust="spacingAndGlyphs">VFSA for initial phase(a)</text>
<text x="550.6" y="87.4" font-family='"Liberation Serif", serif' font-size="23" font-weight="bold" font-style="italic" fill="#000" text-anchor="start" stroke="#000" stroke-width="0.3">:a</text>
<path d="M266.3 106.9 H296.7" stroke="#d02e02" stroke-width="2.5" fill="none"/>
<text x="301.0" y="115.4" font-family='"Liberation Sans", sans-serif' font-size="21.9" font-weight="bold" font-style="italic" fill="#000" textLength="246.9" lengthAdjust="spacingAndGlyphs">Misell for initial phase(a)</text>
<path d="M266.3 134.7 H296.7" stroke="#680c88" stroke-width="2.5" fill="none"/>
<text x="301.0" y="143.3" font-family='"Liberation Sans", sans-serif' font-size="21.9" font-weight="bold" font-style="italic" fill="#000" textLength="328.0" lengthAdjust="spacingAndGlyphs">MVFSA-Misell for initial phase(a)</text>
<path d="M266.3 162.8 H296.7" stroke="#0656ba" stroke-width="2.5" stroke-dasharray="8 2.2 4 2.1" fill="none"/>
<text x="301.0" y="171.2" font-family='"Liberation Sans", sans-serif' font-size="21.9" font-weight="bold" font-style="italic" fill="#000" textLength="244.9" lengthAdjust="spacingAndGlyphs">VFSA for initial phase(b)</text>
<path d="M266.3 190.8 H296.7" stroke="#d02e02" stroke-width="2.5" stroke-dasharray="8 2.2 4 2.1" fill="none"/>
<text x="301.0" y="199.0" font-family='"Liberation Sans", sans-serif' font-size="21.9" font-weight="bold" font-style="italic" fill="#000" textLength="248.0" lengthAdjust="spacingAndGlyphs">Misell for initial phase(b)</text>
<path d="M266.3 218.6 H296.7" stroke="#680c88" stroke-width="2.5" stroke-dasharray="8 2.2 4 2.1" fill="none"/>
<text x="301.0" y="226.8" font-family='"Liberation Sans", sans-serif' font-size="21.9" font-weight="bold" font-style="italic" fill="#000" textLength="329.1" lengthAdjust="spacingAndGlyphs">MVFSA-Misell for initial phase(b)</text>
<text x="234.5" y="88.0" font-family='"Liberation Serif", serif' font-size="23" font-weight="bold" font-style="italic" fill="#000" text-anchor="start" stroke="#000" stroke-width="0.3">A</text>
<text x="234.5" y="115.3" font-family='"Liberation Serif", serif' font-size="23" font-weight="bold" font-style="italic" fill="#000" text-anchor="start" stroke="#000" stroke-width="0.3">B</text>
<text x="234.5" y="143.0" font-family='"Liberation Serif", serif' font-size="23" font-weight="bold" font-style="italic" fill="#000" text-anchor="start" stroke="#000" stroke-width="0.3">C</text>
<text x="234.5" y="170.5" font-family='"Liberation Serif", serif' font-size="23" font-weight="bold" font-style="italic" fill="#000" text-anchor="start" stroke="#000" stroke-width="0.3">D</text>
<text x="234.5" y="197.9" font-family='"Liberation Serif", serif' font-size="23" font-weight="bold" font-style="italic" fill="#000" text-anchor="start" stroke="#000" stroke-width="0.3">E</text>
<text x="234.5" y="225.0" font-family='"Liberation Serif", serif' font-size="23" font-weight="bold" font-style="italic" fill="#000" text-anchor="start" stroke="#000" stroke-width="0.3">F</text>
<rect x="777.5" y="43.2" width="604.0" height="484.4" fill="#fff" stroke="#262626" stroke-width="1"/>
<path d="M777.5 527.6 h6 M1381.5 527.6 h-6" stroke="#262626" stroke-width="1" fill="none"/>
<text transform="translate(768.7 536.1) scale(1.035 1)" font-family='"Liberation Sans", sans-serif' font-size="21.4" fill="#151515" text-anchor="end">0</text>
<path d="M777.5 446.9 h6 M1381.5 446.9 h-6" stroke="#262626" stroke-width="1" fill="none"/>
<text transform="translate(768.7 455.3) scale(1.035 1)" font-family='"Liberation Sans", sans-serif' font-size="21.4" fill="#151515" text-anchor="end">0.5</text>
<path d="M777.5 366.1 h6 M1381.5 366.1 h-6" stroke="#262626" stroke-width="1" fill="none"/>
<text transform="translate(768.7 374.6) scale(1.035 1)" font-family='"Liberation Sans", sans-serif' font-size="21.4" fill="#151515" text-anchor="end">1</text>
<path d="M777.5 285.4 h6 M1381.5 285.4 h-6" stroke="#262626" stroke-width="1" fill="none"/>
<text transform="translate(768.7 293.9) scale(1.035 1)" font-family='"Liberation Sans", sans-serif' font-size="21.4" fill="#151515" text-anchor="end">1.5</text>
<path d="M777.5 204.7 h6 M1381.5 204.7 h-6" stroke="#262626" stroke-width="1" fill="none"/>
<text transform="translate(768.7 213.1) scale(1.035 1)" font-family='"Liberation Sans", sans-serif' font-size="21.4" fill="#151515" text-anchor="end">2</text>
<path d="M777.5 123.9 h6 M1381.5 123.9 h-6" stroke="#262626" stroke-width="1" fill="none"/>
<text transform="translate(768.7 132.4) scale(1.035 1)" font-family='"Liberation Sans", sans-serif' font-size="21.4" fill="#151515" text-anchor="end">2.5</text>
<path d="M777.5 43.2 h6 M1381.5 43.2 h-6" stroke="#262626" stroke-width="1" fill="none"/>
<text transform="translate(768.7 51.7) scale(1.035 1)" font-family='"Liberation Sans", sans-serif' font-size="21.4" fill="#151515" text-anchor="end">3</text>
<path d="M777.5 527.6 v-6 M777.5 43.2 v6" stroke="#262626" stroke-width="1" fill="none"/>
<text transform="translate(776.7 557.6) scale(1.035 1)" font-family='"Liberation Sans", sans-serif' font-size="21.4" fill="#151515" text-anchor="middle">0</text>
<path d="M928.5 527.6 v-6 M928.5 43.2 v6" stroke="#262626" stroke-width="1" fill="none"/>
<text transform="translate(927.7 557.6) scale(1.035 1)" font-family='"Liberation Sans", sans-serif' font-size="21.4" fill="#151515" text-anchor="middle">50</text>
<path d="M1079.5 527.6 v-6 M1079.5 43.2 v6" stroke="#262626" stroke-width="1" fill="none"/>
<text transform="translate(1078.7 557.6) scale(1.035 1)" font-family='"Liberation Sans", sans-serif' font-size="21.4" fill="#151515" text-anchor="middle">100</text>
<path d="M1230.5 527.6 v-6 M1230.5 43.2 v6" stroke="#262626" stroke-width="1" fill="none"/>
<text transform="translate(1229.7 557.6) scale(1.035 1)" font-family='"Liberation Sans", sans-serif' font-size="21.4" fill="#151515" text-anchor="middle">150</text>
<path d="M1381.5 527.6 v-6 M1381.5 43.2 v6" stroke="#262626" stroke-width="1" fill="none"/>
<text transform="translate(1380.7 557.6) scale(1.035 1)" font-family='"Liberation Sans", sans-serif' font-size="21.4" fill="#151515" text-anchor="middle">200</text>
<path d="M780.5 119.7 780.6 121.4 780.8 123.1 780.9 124.8 781.1 126.5 781.2 128.1 781.4 129.8 781.5 131.4 781.7 133.0 781.8 134.6 782.0 136.2 782.1 137.8 782.3 139.4 782.4 140.9 782.6 142.5 782.7 144.0 782.9 145.5 783.0 147.0 783.2 148.5 783.3 150.0 783.5 151.4 783.6 152.8 783.8 154.3 783.9 155.7 784.1 157.1 784.2 158.4 784.4 159.8 784.5 161.1 784.7 162.4 784.8 163.7 785.0 165.0 785.1 166.3 785.3 167.5 785.4 168.8 785.6 170.0 785.7 171.2 785.9 172.4 786.0 173.6 786.2 174.8 786.4 176.0 786.5 177.2 786.7 178.4 786.8 179.6 787.0 180.8 787.1 181.9 787.3 183.1 787.4 184.3 787.6 185.5 787.8 186.7 787.9 187.8 788.1 189.0 788.3 190.2 788.5 191.4 788.6 192.6 788.8 193.7 789.0 194.9 789.2 196.1 789.4 197.3 789.5 198.4 789.7 199.6 789.9 200.8 790.1 202.0 790.3 203.2 790.5 204.3 790.7 205.5 790.9 206.7 791.1 207.9 791.4 209.0 791.6 210.2 791.8 211.4 792.0 212.6 792.2 213.7 792.4 214.9 792.7 216.1 792.9 217.3 793.1 218.4 793.3 219.6 793.6 220.8 793.8 221.9 794.0 223.1 794.3 224.3 794.5 225.4 794.8 226.6 795.0 227.8 795.3 228.9 795.5 230.1 795.8 231.3 796.0 232.4 796.3 233.6 796.6 234.8 796.8 235.9 797.1 237.1 797.4 238.2 797.7 239.4 797.9 240.6 798.2 241.7 798.5 242.9 798.8 244.0 799.1 245.2 799.4 246.4 799.7 247.5 800.0 248.7 800.3 249.8 800.6 251.0 800.9 252.1 801.3 253.3 801.6 254.4 801.9 255.6 802.2 256.7 802.6 257.9 802.9 259.0 803.2 260.1 803.6 261.3 803.9 262.4 804.3 263.6 804.7 264.7 805.0 265.8 805.4 267.0 805.8 268.1 806.2 269.2 806.5 270.3 806.9 271.5 807.3 272.6 807.7 273.7 808.2 274.8 808.6 275.9 809.0 277.1 809.4 278.2 809.9 279.3 810.3 280.4 810.8 281.5 811.2 282.6 811.7 283.7 812.1 284.8 812.6 285.9 813.1 287.0 813.5 288.1 814.0 289.2 814.5 290.3 815.0 291.3 815.5 292.4 816.1 293.5 816.6 294.5 817.1 295.6 817.7 296.7 818.2 297.7 818.8 298.8 819.4 299.8 820.0 300.8 820.6 301.8 821.2 302.9 821.8 303.9 822.4 304.9 823.1 305.9 823.7 306.9 824.4 307.9 825.0 308.9 825.7 309.9 826.4 310.9 827.1 311.9 827.7 312.8 828.5 313.8 829.2 314.7 829.9 315.7 830.6 316.6 831.4 317.6 832.1 318.5 832.9 319.4 833.6 320.3 834.4 321.2 835.2 322.1 836.0 323.0 836.8 323.9 837.6 324.8 838.4 325.7 839.3 326.5 840.1 327.4 840.9 328.3 841.7 329.1 842.6 330.0 843.4 330.8 844.3 331.7 845.1 332.5 846.0 333.3 846.8 334.2 847.7 335.0 848.6 335.8 849.5 336.6 850.4 337.3 851.3 338.1 852.2 338.8 853.2 339.6 854.1 340.3 855.1 341.0 856.1 341.7 857.1 342.3 858.1 343.0 859.1 343.6 860.6 344.4 862.1 345.1 863.6 345.8 865.1 346.5 866.6 347.1 868.1 347.6 869.6 348.2 871.1 348.8 872.6 349.3 874.1 349.9 875.6 350.5 877.1 351.1 878.6 351.7 880.1 352.5 881.6 353.2 883.1 354.0 884.6 354.8 886.1 355.7 887.6 356.6 889.1 357.5 890.6 358.4 891.6 359.1 892.6 359.8 893.6 360.4 894.6 361.1 895.6 361.7 896.6 362.4 898.1 363.2 899.6 363.9 901.1 364.6 902.6 365.2 904.1 365.8 905.6 366.4 907.1 367.0 908.6 367.6 910.1 368.2 911.6 368.8 913.1 369.4 914.6 370.0 916.1 370.7 917.6 371.3 919.1 371.9 920.6 372.5 922.1 373.1 923.6 373.6 925.1 374.2 926.6 374.7 928.1 375.3 929.6 375.8 931.1 376.4 932.6 376.9 934.1 377.4 935.6 377.9 937.1 378.4 938.6 378.9 940.1 379.3 941.6 379.8 943.1 380.2 944.6 380.6 946.1 381.0 947.6 381.4 949.1 381.7 950.6 382.1 952.1 382.5 953.6 382.8 955.1 383.2 956.6 383.5 958.1 383.9 959.6 384.3 961.1 384.7 962.6 385.1 964.1 385.5 965.6 386.0 967.1 386.5 968.6 387.0 970.1 387.5 971.6 388.1 973.1 388.8 974.6 389.5 976.1 390.4 977.6 391.3 978.6 391.9 979.6 392.6 980.6 393.3 981.6 393.9 982.6 394.6 983.6 395.3 984.6 395.9 985.6 396.6 986.6 397.3 987.6 397.9 988.6 398.5 989.7 399.1 991.2 400.0 992.7 400.8 994.2 401.6 995.7 402.4 997.2 403.1 998.7 403.9 1000.2 404.7 1001.7 405.4 1003.2 406.2 1004.7 406.9 1006.2 407.6 1007.7 408.3 1009.2 409.0 1010.7 409.7 1012.2 410.3 1013.7 411.0 1015.2 411.6 1016.7 412.2 1018.2 412.7 1019.7 413.2 1021.2 413.7 1022.7 414.2 1024.2 414.7 1025.7 415.2 1027.2 415.7 1028.7 416.2 1030.2 416.6 1031.7 417.1 1033.2 417.5 1034.7 417.9 1036.2 418.4 1037.7 418.8 1039.2 419.2 1040.7 419.6 1042.2 420.0 1043.7 420.3 1045.2 420.7 1046.7 421.1 1048.2 421.4 1049.7 421.8 1051.2 422.1 1052.7 422.5 1054.2 422.8 1055.7 423.1 1057.2 423.4 1058.7 423.7 1060.2 424.0 1061.7 424.3 1063.2 424.6 1064.7 424.9 1066.2 425.2 1067.7 425.5 1069.2 425.7 1070.7 426.0 1072.2 426.3 1073.7 426.5 1075.2 426.8 1076.7 427.0 1078.2 427.3 1079.7 427.5 1081.2 427.7 1082.7 428.0 1084.2 428.2 1085.7 428.4 1087.2 428.6 1088.7 428.9 1090.2 429.1 1091.7 429.3 1093.2 429.5 1094.7 429.7 1096.2 429.9 1097.7 430.2 1099.2 430.4 1100.7 430.6 1102.2 430.8 1103.7 431.0 1105.2 431.2 1106.7 431.4 1108.2 431.6 1109.7 431.8 1111.2 432.0 1112.7 432.2 1114.2 432.4 1115.7 432.6 1117.2 432.8 1118.7 433.0 1120.2 433.2 1121.7 433.3 1123.2 433.5 1124.7 433.7 1126.2 433.9 1127.7 434.0 1129.2 434.2 1130.7 434.3 1132.2 434.5 1133.7 434.6 1135.2 434.8 1136.7 434.9 1138.2 435.1 1139.7 435.2 1141.2 435.3 1142.7 435.4 1144.2 435.6 1145.7 435.7 1147.2 435.8 1148.7 435.9 1150.2 436.0 1151.7 436.1 1153.2 436.2 1154.7 436.3 1156.2 436.4 1157.7 436.5 1159.2 436.6 1160.7 436.7 1162.2 436.8 1163.7 436.9 1165.2 437.0 1166.7 437.1 1168.2 437.1 1169.7 437.2 1171.2 437.3 1172.7 437.4 1174.2 437.5 1175.7 437.5 1177.2 437.6 1178.7 437.7 1180.2 437.8 1181.7 437.8 1183.2 437.9 1184.7 438.0 1186.2 438.1 1187.7 438.1 1189.2 438.2 1190.7 438.3 1192.2 438.3 1193.7 438.4 1195.2 438.5 1196.7 438.5 1198.2 438.6 1199.7 438.6 1201.2 438.7 1202.7 438.8 1204.2 438.8 1205.7 438.9 1207.2 438.9 1208.7 438.9 1210.2 439.0 1211.7 439.0 1213.2 439.1 1214.7 439.1 1216.2 439.1 1217.7 439.2 1219.2 439.2 1220.7 439.2 1222.2 439.3 1223.7 439.3 1225.2 439.3 1226.7 439.4 1228.2 439.4 1229.7 439.5 1231.2 439.5 1232.7 439.6 1234.2 439.6 1235.7 439.7 1237.2 439.7 1238.7 439.8 1240.2 439.9 1241.7 440.0 1243.2 440.1 1244.7 440.2 1246.2 440.3 1247.7 440.5 1249.2 440.6 1250.7 440.8 1252.2 441.0 1253.7 441.2 1255.2 441.5 1256.7 441.8 1258.2 442.2 1259.7 442.6 1261.2 443.0 1262.7 443.4 1264.2 443.8 1265.7 444.2 1267.2 444.5 1268.7 444.8 1270.2 445.2 1271.7 445.5 1273.2 445.9 1274.7 446.2 1276.2 446.5 1277.7 446.7 1279.2 446.9 1280.7 447.1 1282.2 447.2 1283.7 447.3 1285.2 447.4 1286.7 447.5 1288.2 447.6 1289.7 447.7 1291.2 447.8 1292.7 447.9 1294.2 448.0 1295.7 448.1 1297.2 448.1 1298.7 448.2 1300.2 448.3 1301.7 448.3 1303.2 448.4 1304.7 448.4 1306.2 448.5 1307.7 448.5 1309.2 448.5 1310.7 448.6 1312.2 448.6 1313.7 448.6 1315.2 448.7 1316.7 448.7 1318.2 448.7 1319.7 448.8 1321.2 448.8 1322.7 448.8 1324.2 448.9 1325.7 448.9 1327.2 448.9 1328.7 449.0 1330.2 449.0 1331.7 449.0 1333.2 449.0 1334.7 449.1 1336.2 449.1 1337.7 449.1 1339.2 449.1 1340.7 449.2 1342.2 449.2 1343.7 449.2 1345.2 449.2 1346.7 449.2 1348.2 449.3 1349.7 449.3 1351.2 449.3 1352.7 449.3 1354.2 449.3 1355.7 449.4 1357.2 449.4 1358.7 449.4 1360.2 449.4 1361.7 449.4 1363.2 449.4 1364.7 449.4 1366.2 449.4 1367.7 449.5 1369.2 449.5 1370.7 449.5 1372.2 449.5 1373.7 449.5 1375.2 449.5 1376.7 449.5 1378.2 449.5 1379.7 449.5 1381.2 449.5 1381.5 449.5" fill="none" stroke="#0656ba" stroke-width="2.6" stroke-linejoin="round"/>
<path d="M780.5 119.7 780.6 121.8 780.8 123.9 780.9 126.0 781.1 128.1 781.2 130.1 781.4 132.2 781.5 134.2 781.7 136.3 781.8 138.3 782.0 140.3 782.1 142.4 782.3 144.4 782.4 146.3 782.6 148.3 782.7 150.3 782.9 152.3 783.0 154.2 783.2 156.2 783.3 158.1 783.5 160.0 783.6 161.9 783.8 163.8 783.9 165.7 784.1 167.6 784.2 169.5 784.4 171.4 784.5 173.3 784.7 175.2 784.8 177.0 785.0 178.9 785.1 180.8 785.3 182.6 785.4 184.4 785.6 186.2 785.7 188.0 785.9 189.8 786.0 191.5 786.2 193.3 786.3 195.0 786.5 196.7 786.6 198.3 786.8 200.0 786.9 201.6 787.1 203.3 787.2 204.9 787.4 206.5 787.5 208.0 787.7 209.6 787.8 211.2 788.0 212.7 788.1 214.3 788.3 215.8 788.4 217.3 788.6 218.8 788.7 220.3 788.9 221.8 789.0 223.3 789.2 224.7 789.3 226.2 789.5 227.6 789.6 229.0 789.8 230.4 789.9 231.8 790.1 233.2 790.2 234.6 790.4 236.0 790.5 237.4 790.7 238.7 790.8 240.0 791.0 241.4 791.1 242.7 791.3 244.0 791.4 245.3 791.6 246.7 791.7 248.0 791.9 249.3 792.0 250.5 792.2 251.8 792.3 253.1 792.5 254.4 792.6 255.6 792.8 256.9 792.9 258.1 793.1 259.3 793.2 260.6 793.4 261.8 793.5 263.0 793.7 264.2 793.8 265.4 794.0 266.6 794.2 267.7 794.3 268.9 794.5 270.1 794.6 271.3 794.8 272.5 794.9 273.7 795.1 274.8 795.3 276.0 795.4 277.2 795.6 278.4 795.8 279.6 795.9 280.8 796.1 281.9 796.3 283.1 796.5 284.3 796.6 285.5 796.8 286.6 797.0 287.8 797.2 289.0 797.4 290.2 797.6 291.4 797.8 292.5 798.0 293.7 798.2 294.9 798.4 296.1 798.5 297.3 798.7 298.5 798.9 299.6 799.1 300.8 799.3 302.0 799.5 303.2 799.7 304.4 799.9 305.6 800.1 306.8 800.3 307.9 800.5 309.1 800.7 310.3 800.9 311.5 801.1 312.7 801.3 313.9 801.4 315.0 801.6 316.2 801.8 317.4 802.0 318.6 802.2 319.8 802.4 320.9 802.6 322.1 802.8 323.3 803.0 324.5 803.3 325.6 803.5 326.8 803.7 328.0 803.9 329.1 804.1 330.3 804.4 331.5 804.6 332.6 804.9 333.8 805.1 334.9 805.4 336.1 805.6 337.3 805.9 338.4 806.2 339.6 806.4 340.8 806.7 341.9 807.0 343.1 807.2 344.3 807.5 345.4 807.8 346.6 808.1 347.7 808.3 348.9 808.6 350.1 808.9 351.2 809.2 352.4 809.5 353.5 809.8 354.7 810.1 355.8 810.4 357.0 810.7 358.1 811.0 359.3 811.4 360.4 811.7 361.6 812.0 362.7 812.3 363.9 812.7 365.0 813.0 366.2 813.3 367.3 813.7 368.4 814.1 369.6 814.4 370.7 814.8 371.8 815.2 373.0 815.5 374.1 815.9 375.2 816.3 376.3 816.7 377.5 817.1 378.6 817.5 379.7 818.0 380.8 818.4 381.9 818.8 383.1 819.3 384.2 819.7 385.3 820.1 386.4 820.6 387.5 821.1 388.6 821.5 389.7 822.0 390.8 822.5 391.9 823.0 392.9 823.5 394.0 824.0 395.1 824.5 396.2 825.0 397.3 825.5 398.3 826.0 399.4 826.6 400.4 827.1 401.5 827.7 402.6 828.3 403.6 828.8 404.6 829.4 405.7 830.0 406.7 830.6 407.7 831.3 408.7 831.9 409.8 832.5 410.8 833.1 411.8 833.8 412.8 834.4 413.8 835.1 414.8 835.8 415.8 836.4 416.8 837.1 417.7 837.8 418.7 838.5 419.7 839.2 420.6 839.9 421.6 840.7 422.5 841.4 423.5 842.2 424.4 842.9 425.3 843.7 426.2 844.5 427.1 845.3 428.0 846.1 428.8 846.9 429.7 847.8 430.6 848.6 431.4 849.5 432.3 850.3 433.1 851.2 433.9 852.0 434.7 852.9 435.6 853.8 436.4 854.7 437.1 855.6 437.9 856.5 438.7 857.5 439.4 858.4 440.1 859.4 440.8 860.4 441.4 861.4 442.0 862.9 442.9 864.4 443.6 865.9 444.4 867.4 445.1 868.9 445.6 870.4 446.1 871.9 446.5 873.4 446.8 874.9 447.0 876.4 447.2 877.9 447.4 879.4 447.6 880.9 447.7 882.4 447.7 883.9 447.7 885.4 447.7 886.9 447.7 888.4 447.7 889.9 447.7 891.4 447.7 892.9 447.7 894.4 447.7 895.9 447.7 897.4 447.7 898.9 447.7 900.4 447.7 901.9 447.7 903.4 447.7 904.9 447.7 906.4 447.7 907.9 447.7 909.4 447.7 910.9 447.7 912.4 447.7 913.9 447.7 915.4 447.7 916.9 447.7 918.4 447.7 919.9 447.7 921.4 447.7 922.9 447.7 924.4 447.7 925.9 447.7 927.4 447.7 928.9 447.7 930.4 447.7 931.9 447.7 933.4 447.7 934.9 447.7 936.4 447.7 937.9 447.7 939.4 447.7 940.9 447.7 942.4 447.7 943.9 447.7 945.4 447.7 946.9 447.7 948.4 447.7 949.9 447.7 951.4 447.7 952.9 447.7 954.4 447.7 955.9 447.7 957.4 447.7 958.9 447.7 960.4 447.7 961.9 447.7 963.4 447.7 964.9 447.7 966.4 447.7 967.9 447.7 969.4 447.7 970.9 447.7 972.4 447.7 973.9 447.7 975.4 447.7 976.9 447.7 978.4 447.7 979.9 447.7 981.4 447.7 982.9 447.7 984.4 447.7 985.9 447.7 987.4 447.7 988.9 447.7 990.4 447.7 991.9 447.7 993.4 447.7 994.9 447.7 996.4 447.7 997.9 447.7 999.4 447.7 1000.9 447.7 1002.4 447.7 1003.9 447.7 1005.4 447.7 1006.9 447.7 1008.4 447.7 1009.9 447.7 1011.4 447.7 1012.9 447.7 1014.4 447.7 1015.9 447.7 1017.4 447.7 1018.9 447.7 1020.4 447.7 1021.9 447.7 1023.4 447.7 1024.9 447.7 1026.4 447.7 1027.9 447.7 1029.4 447.7 1030.9 447.7 1032.4 447.7 1033.9 447.7 1035.4 447.7 1036.9 447.7 1038.4 447.7 1039.9 447.7 1041.4 447.7 1042.9 447.7 1044.4 447.7 1045.9 447.7 1047.4 447.7 1048.9 447.7 1050.4 447.7 1051.9 447.7 1053.4 447.7 1054.9 447.7 1056.4 447.7 1057.9 447.7 1059.4 447.7 1060.9 447.7 1062.4 447.7 1063.9 447.7 1065.4 447.7 1066.9 447.7 1068.4 447.7 1069.9 447.7 1071.4 447.7 1072.9 447.7 1074.4 447.7 1075.9 447.7 1077.4 447.7 1078.9 447.7 1080.4 447.7 1081.9 447.7 1083.4 447.7 1084.9 447.7 1086.4 447.7 1087.9 447.7 1089.4 447.7 1090.9 447.7 1092.4 447.7 1093.9 447.7 1095.4 447.7 1096.9 447.7 1098.4 447.7 1099.9 447.7 1101.4 447.7 1102.9 447.7 1104.4 447.7 1105.9 447.7 1107.4 447.7 1108.9 447.7 1110.4 447.7 1111.9 447.7 1113.4 447.7 1114.9 447.7 1116.4 447.7 1117.9 447.7 1119.4 447.7 1120.9 447.7 1122.4 447.7 1123.9 447.7 1125.4 447.7 1126.9 447.7 1128.4 447.7 1129.9 447.7 1131.4 447.7 1132.9 447.7 1134.4 447.7 1135.9 447.7 1137.4 447.7 1138.9 447.7 1140.4 447.7 1141.9 447.7 1143.4 447.7 1144.9 447.7 1146.4 447.7 1147.9 447.7 1149.4 447.7 1150.9 447.7 1152.4 447.7 1153.9 447.7 1155.4 447.7 1156.9 447.7 1158.4 447.7 1159.9 447.7 1161.4 447.7 1162.9 447.7 1164.4 447.7 1165.9 447.7 1167.4 447.7 1168.9 447.7 1170.4 447.7 1171.9 447.7 1173.4 447.7 1174.9 447.7 1176.4 447.7 1177.9 447.7 1179.4 447.7 1180.9 447.7 1182.4 447.7 1183.9 447.7 1185.4 447.7 1186.9 447.7 1188.4 447.7 1189.9 447.7 1191.4 447.7 1192.9 447.7 1194.4 447.7 1195.9 447.7 1197.4 447.7 1198.9 447.7 1200.4 447.7 1201.9 447.7 1203.4 447.7 1204.9 447.7 1206.4 447.7 1207.9 447.7 1209.4 447.7 1210.9 447.7 1212.4 447.7 1213.9 447.7 1215.4 447.7 1216.9 447.7 1218.4 447.7 1219.9 447.7 1221.4 447.7 1222.9 447.7 1224.4 447.7 1225.9 447.7 1227.4 447.7 1228.9 447.7 1230.4 447.7 1231.9 447.7 1233.4 447.7 1234.9 447.7 1236.4 447.7 1237.9 447.7 1239.4 447.7 1240.9 447.7 1242.4 447.7 1243.9 447.7 1245.4 447.7 1246.9 447.7 1248.4 447.7 1249.9 447.7 1251.4 447.7 1252.9 447.7 1254.4 447.7 1255.9 447.7 1257.4 447.7 1258.9 447.7 1260.4 447.7 1261.9 447.7 1263.4 447.7 1264.9 447.7 1266.4 447.7 1267.9 447.7 1269.4 447.7 1270.9 447.7 1272.4 447.7 1273.9 447.7 1275.4 447.7 1276.9 447.7 1278.4 447.7 1279.9 447.7 1281.4 447.7 1282.9 447.7 1284.4 447.7 1285.9 447.7 1287.4 447.7 1288.9 447.7 1290.4 447.7 1291.9 447.7 1293.4 447.7 1294.9 447.7 1296.4 447.7 1297.9 447.7 1299.4 447.7 1300.9 447.7 1302.4 447.7 1303.9 447.7 1305.4 447.7 1306.9 447.7 1308.4 447.7 1309.9 447.7 1311.4 447.7 1312.9 447.7 1314.4 447.7 1315.9 447.7 1317.4 447.7 1318.9 447.7 1320.4 447.7 1321.9 447.7 1323.4 447.7 1324.9 447.7 1326.4 447.7 1327.9 447.7 1329.4 447.7 1330.9 447.7 1332.4 447.7 1333.9 447.7 1335.4 447.7 1336.9 447.7 1338.4 447.7 1339.9 447.7 1341.4 447.7 1342.9 447.7 1344.4 447.7 1345.9 447.7 1347.4 447.7 1348.9 447.7 1350.4 447.7 1351.9 447.7 1353.4 447.7 1354.9 447.7 1356.4 447.7 1357.9 447.7 1359.4 447.7 1360.9 447.7 1362.4 447.7 1363.9 447.7 1365.4 447.7 1366.9 447.7 1368.4 447.7 1369.9 447.7 1371.4 447.7 1372.9 447.7 1374.4 447.7 1375.9 447.7 1377.4 447.7 1378.9 447.7 1380.4 447.7 1381.5 447.7" fill="none" stroke="#d02e02" stroke-width="2.6" stroke-linejoin="round"/>
<path d="M780.5 119.7 780.6 124.1 780.8 128.4 780.9 132.7 781.1 136.8 781.2 140.9 781.4 144.9 781.5 148.8 781.7 152.7 781.8 156.4 782.0 160.0 782.1 163.6 782.3 167.2 782.4 170.9 782.6 174.5 782.7 178.1 782.9 181.5 783.0 184.9 783.2 188.1 783.3 191.1 783.5 193.9 783.6 196.4 783.8 198.7 783.9 200.6 784.1 202.4 784.2 204.2 784.4 205.9 784.5 207.6 784.7 209.1 784.8 210.7 785.0 212.2 785.1 213.6 785.3 215.0 785.4 216.4 785.6 217.7 785.7 218.9 785.9 220.2 786.0 221.4 786.2 222.5 786.4 223.7 786.5 224.9 786.7 226.1 786.8 227.2 787.0 228.4 787.2 229.6 787.4 230.8 787.6 231.9 787.7 233.1 787.9 234.3 788.1 235.5 788.3 236.7 788.5 237.8 788.7 239.0 788.9 240.2 789.1 241.4 789.3 242.6 789.5 243.7 789.7 244.9 789.9 246.1 790.1 247.3 790.3 248.4 790.5 249.6 790.7 250.8 791.0 252.0 791.2 253.1 791.4 254.3 791.6 255.5 791.9 256.6 792.1 257.8 792.3 259.0 792.6 260.1 792.8 261.3 793.1 262.4 793.3 263.6 793.6 264.8 793.9 265.9 794.1 267.1 794.4 268.2 794.7 269.4 795.0 270.6 795.3 271.7 795.6 272.9 795.9 274.0 796.2 275.1 796.5 276.3 796.8 277.4 797.2 278.6 797.5 279.7 797.8 280.9 798.2 282.0 798.5 283.1 798.9 284.3 799.2 285.4 799.6 286.5 800.0 287.7 800.4 288.8 800.7 289.9 801.1 291.1 801.5 292.2 801.9 293.3 802.3 294.4 802.7 295.6 803.2 296.7 803.6 297.8 804.0 298.9 804.4 300.0 804.9 301.1 805.3 302.2 805.7 303.4 806.2 304.5 806.6 305.6 807.1 306.7 807.5 307.8 808.0 308.9 808.5 310.0 809.0 311.1 809.5 312.1 810.0 313.2 810.4 314.3 811.0 315.4 811.5 316.5 812.0 317.6 812.5 318.6 813.0 319.7 813.5 320.8 814.0 321.9 814.6 323.0 815.1 324.0 815.6 325.1 816.1 326.2 816.6 327.3 817.1 328.4 817.7 329.5 818.2 330.6 818.7 331.7 819.2 332.7 819.7 333.8 820.2 334.9 820.7 336.0 821.2 337.1 821.7 338.2 822.3 339.2 822.8 340.3 823.3 341.4 823.8 342.5 824.4 343.5 824.9 344.6 825.5 345.7 826.0 346.7 826.6 347.8 827.1 348.8 827.7 349.9 828.3 350.9 828.9 351.9 829.5 352.9 830.1 354.0 830.7 355.0 831.4 356.0 832.0 357.0 832.6 358.0 833.3 359.0 833.9 360.0 834.6 361.0 835.2 362.0 835.9 363.0 836.6 364.0 837.2 365.0 837.9 366.0 838.6 367.0 839.3 367.9 840.0 368.9 840.7 369.8 841.5 370.8 842.2 371.7 843.0 372.6 843.7 373.5 844.5 374.4 845.3 375.3 846.1 376.1 847.0 377.0 847.8 377.8 848.7 378.7 849.5 379.5 850.4 380.3 851.3 381.1 852.2 381.9 853.1 382.7 854.0 383.4 854.9 384.2 855.9 385.0 856.8 385.7 857.8 386.4 858.7 387.1 859.7 387.8 860.6 388.5 861.6 389.2 862.6 389.9 863.6 390.5 864.6 391.2 865.6 391.8 866.6 392.5 867.7 393.1 868.7 393.7 870.2 394.6 871.7 395.4 873.2 396.2 874.7 397.0 876.2 397.8 877.7 398.6 879.2 399.3 880.7 400.0 882.2 400.7 883.7 401.4 885.2 402.0 886.7 402.6 888.2 403.1 889.7 403.7 891.2 404.2 892.7 404.8 894.2 405.3 895.7 405.9 897.2 406.6 898.7 407.3 900.2 408.0 901.7 408.8 903.2 409.7 904.7 410.6 905.7 411.2 906.7 411.8 907.7 412.5 908.7 413.2 909.7 413.9 910.7 414.6 911.7 415.3 912.7 416.0 913.6 416.8 914.5 417.5 915.4 418.3 916.3 419.2 917.2 420.0 918.1 420.8 918.9 421.7 919.8 422.5 920.7 423.3 921.5 424.2 922.4 425.1 923.2 425.9 924.0 426.8 924.9 427.7 925.7 428.5 926.5 429.4 927.3 430.3 928.1 431.2 928.9 432.1 929.7 433.1 930.5 434.0 931.2 434.9 932.0 435.8 932.7 436.8 933.5 437.8 934.2 438.7 934.9 439.7 935.6 440.7 936.3 441.6 937.0 442.6 937.7 443.6 938.4 444.6 939.1 445.5 939.8 446.5 940.6 447.4 941.3 448.4 942.0 449.3 942.8 450.2 943.6 451.1 944.3 452.0 945.1 453.0 945.9 453.9 946.7 454.8 947.5 455.7 948.3 456.6 949.1 457.5 949.9 458.3 950.7 459.2 951.5 460.1 952.3 461.0 953.1 461.9 953.9 462.8 954.7 463.7 955.5 464.5 956.3 465.4 957.1 466.3 958.0 467.2 958.8 468.1 959.6 469.0 960.4 469.8 961.2 470.7 962.0 471.6 962.9 472.5 963.7 473.3 964.5 474.2 965.3 475.1 966.1 475.9 967.0 476.8 967.8 477.7 968.6 478.5 969.5 479.4 970.3 480.3 971.1 481.1 972.0 482.0 972.8 482.8 973.7 483.7 974.5 484.5 975.4 485.4 976.2 486.2 977.1 487.1 977.9 487.9 978.8 488.8 979.6 489.6 980.5 490.5 981.3 491.3 982.2 492.1 983.0 493.0 983.9 493.8 984.8 494.6 985.6 495.5 986.5 496.3 987.4 497.1 988.3 497.9 989.1 498.7 990.0 499.5 990.9 500.3 991.8 501.1 992.8 501.8 993.7 502.6 994.6 503.4 995.5 504.1 996.4 504.9 997.4 505.7 998.3 506.4 999.2 507.1 1000.2 507.9 1001.1 508.6 1002.1 509.3 1003.1 510.0 1004.1 510.7 1005.1 511.3 1006.1 511.9 1007.6 512.8 1009.1 513.6 1010.6 514.4 1012.1 515.1 1013.6 515.9 1015.1 516.5 1016.6 517.2 1018.1 517.8 1019.6 518.3 1021.1 518.8 1022.6 519.3 1024.1 519.7 1025.6 520.1 1027.1 520.5 1028.6 520.8 1030.1 521.1 1031.6 521.5 1033.1 521.8 1034.6 522.0 1036.1 522.3 1037.6 522.5 1039.1 522.8 1040.6 523.0 1042.1 523.2 1043.6 523.4 1045.1 523.6 1046.6 523.8 1048.1 524.0 1049.6 524.2 1051.1 524.4 1052.6 524.5 1054.1 524.7 1055.6 524.8 1057.1 524.9 1058.6 525.0 1060.1 525.0 1061.6 525.0 1063.1 525.1 1064.6 525.1 1066.1 525.1 1067.6 525.2 1069.1 525.2 1070.6 525.2 1072.1 525.2 1073.6 525.3 1075.1 525.3 1076.6 525.3 1078.1 525.3 1079.6 525.4 1081.1 525.4 1082.6 525.4 1084.1 525.4 1085.6 525.5 1087.1 525.5 1088.6 525.5 1090.1 525.5 1091.6 525.5 1093.1 525.6 1094.6 525.6 1096.1 525.6 1097.6 525.6 1099.1 525.6 1100.6 525.6 1102.1 525.7 1103.6 525.7 1105.1 525.7 1106.6 525.7 1108.1 525.7 1109.6 525.7 1111.1 525.7 1112.6 525.8 1114.1 525.8 1115.6 525.8 1117.1 525.8 1118.6 525.8 1120.1 525.8 1121.6 525.8 1123.1 525.8 1124.6 525.8 1126.1 525.9 1127.6 525.9 1129.1 525.9 1130.6 525.9 1132.1 525.9 1133.6 525.9 1135.1 525.9 1136.6 525.9 1138.1 525.9 1139.6 525.9 1141.1 525.9 1142.6 525.9 1144.1 525.9 1145.6 525.9 1147.1 526.0 1148.6 526.0 1150.1 526.0 1151.6 526.0 1153.1 526.0 1154.6 526.0 1156.1 526.0 1157.6 526.0 1159.1 526.0 1160.6 526.0 1162.1 526.0 1163.6 526.0 1165.1 526.0 1166.6 526.0 1168.1 526.0 1169.6 526.0 1171.1 526.0 1172.6 526.0 1174.1 526.0 1175.6 526.1 1177.1 526.1 1178.6 526.1 1180.1 526.1 1181.6 526.1 1183.1 526.1 1184.6 526.1 1186.1 526.1 1187.6 526.1 1189.1 526.1 1190.6 526.1 1192.1 526.1 1193.6 526.1 1195.1 526.1 1196.6 526.1 1198.1 526.1 1199.6 526.1 1201.1 526.1 1202.6 526.1 1204.1 526.1 1205.6 526.1 1207.1 526.1 1208.6 526.1 1210.1 526.2 1211.6 526.2 1213.1 526.2 1214.6 526.2 1216.1 526.2 1217.6 526.2 1219.1 526.2 1220.6 526.2 1222.1 526.2 1223.6 526.2 1225.1 526.2 1226.6 526.2 1228.1 526.2 1229.6 526.2 1231.1 526.2 1232.6 526.2 1234.1 526.2 1235.6 526.2 1237.1 526.2 1238.6 526.2 1240.1 526.2 1241.6 526.2 1243.1 526.2 1244.6 526.2 1246.1 526.2 1247.6 526.2 1249.1 526.2 1250.6 526.3 1252.1 526.3 1253.6 526.3 1255.1 526.3 1256.6 526.3 1258.1 526.3 1259.6 526.3 1261.1 526.3 1262.6 526.3 1264.1 526.3 1265.6 526.3 1267.1 526.3 1268.6 526.3 1270.1 526.3 1271.6 526.3 1273.1 526.3 1274.6 526.3 1276.1 526.3 1277.6 526.3 1279.1 526.3 1280.6 526.3 1282.1 526.3 1283.6 526.3 1285.1 526.3 1286.6 526.3 1288.1 526.3 1289.6 526.3 1291.1 526.3 1292.6 526.3 1294.1 526.3 1295.6 526.3 1297.1 526.3 1298.6 526.3 1300.1 526.3 1301.6 526.3 1303.1 526.3 1304.6 526.3 1306.1 526.3 1307.6 526.4 1309.1 526.4 1310.6 526.4 1312.1 526.4 1313.6 526.4 1315.1 526.4 1316.6 526.4 1318.1 526.4 1319.6 526.4 1321.1 526.4 1322.6 526.4 1324.1 526.4 1325.6 526.4 1327.1 526.4 1328.6 526.4 1330.1 526.4 1331.6 526.4 1333.1 526.4 1334.6 526.4 1336.1 526.4 1337.6 526.4 1339.1 526.4 1340.6 526.4 1342.1 526.4 1343.6 526.4 1345.1 526.4 1346.6 526.4 1348.1 526.4 1349.6 526.4 1351.1 526.4 1352.6 526.4 1354.1 526.4 1355.6 526.4 1357.1 526.4 1358.6 526.4 1360.1 526.4 1361.6 526.4 1363.1 526.4 1364.6 526.4 1366.1 526.4 1367.6 526.4 1369.1 526.4 1370.6 526.4 1372.1 526.4 1373.6 526.4 1375.1 526.4 1376.6 526.4 1378.1 526.4 1379.6 526.4 1381.1 526.4 1381.5 526.4" fill="none" stroke="#680c88" stroke-width="2.6" stroke-linejoin="round"/>
<path d="M780.5 101.9 780.7 103.1 780.8 104.3 781.0 105.5 781.2 106.6 781.4 107.8 781.5 109.0 781.7 110.2 781.9 111.4 782.1 112.6 782.2 113.8 782.4 114.9 782.6 116.1 782.8 117.3 782.9 118.5 783.1 119.7 783.3 120.9 783.5 122.0 783.7 123.2 783.8 124.4 784.0 125.6 784.2 126.8 784.4 128.0 784.6 129.1 784.8 130.3 784.9 131.5 785.1 132.7 785.3 133.9 785.5 135.1 785.7 136.2 785.9 137.4 786.1 138.6 786.3 139.8 786.5 141.0 786.7 142.1 786.9 143.3 787.1 144.5 787.3 145.7 787.5 146.9 787.7 148.0 787.9 149.2 788.1 150.4 788.3 151.6 788.5 152.8 788.7 153.9 788.9 155.1 789.1 156.3 789.3 157.5 789.5 158.6 789.7 159.8 790.0 161.0 790.2 162.2 790.4 163.4 790.6 164.5 790.8 165.7 791.0 166.9 791.3 168.1 791.5 169.2 791.7 170.4 791.9 171.6 792.2 172.8 792.4 173.9 792.6 175.1 792.8 176.3 793.1 177.5 793.3 178.6 793.5 179.8 793.8 181.0 794.0 182.2 794.2 183.3 794.5 184.5 794.7 185.7 795.0 186.9 795.2 188.0 795.4 189.2 795.7 190.4 795.9 191.6 796.2 192.7 796.4 193.9 796.7 195.1 796.9 196.2 797.1 197.4 797.4 198.6 797.6 199.8 797.9 200.9 798.2 202.1 798.4 203.3 798.7 204.4 798.9 205.6 799.2 206.8 799.4 208.0 799.7 209.1 799.9 210.3 800.2 211.5 800.4 212.7 800.7 213.8 800.9 215.0 801.2 216.2 801.4 217.3 801.7 218.5 802.0 219.7 802.2 220.8 802.5 222.0 802.8 223.1 803.1 224.3 803.4 225.4 803.6 226.6 803.9 227.7 804.2 228.9 804.5 230.0 804.9 231.2 805.2 232.3 805.5 233.4 805.9 234.6 806.2 235.7 806.6 236.8 807.0 238.0 807.3 239.1 807.7 240.2 808.1 241.4 808.5 242.5 808.9 243.6 809.3 244.7 809.7 245.8 810.2 246.9 810.6 248.0 811.0 249.1 811.5 250.2 812.0 251.3 812.4 252.4 812.9 253.5 813.4 254.6 813.8 255.7 814.3 256.8 814.8 257.9 815.3 259.0 815.8 260.1 816.3 261.2 816.8 262.3 817.3 263.3 817.8 264.4 818.4 265.5 818.9 266.6 819.4 267.6 819.9 268.7 820.5 269.8 821.0 270.9 821.5 271.9 822.1 273.0 822.6 274.0 823.2 275.1 823.8 276.1 824.4 277.2 825.0 278.2 825.6 279.2 826.2 280.2 826.8 281.2 827.4 282.2 828.1 283.2 828.8 284.2 829.5 285.1 830.2 286.1 830.9 287.0 831.7 287.9 832.5 288.9 833.2 289.8 834.0 290.7 834.8 291.6 835.6 292.4 836.4 293.3 837.2 294.2 838.0 295.0 838.9 295.9 839.7 296.7 840.6 297.5 841.5 298.4 842.4 299.2 843.2 300.0 844.1 300.8 845.0 301.5 845.9 302.3 846.9 303.1 847.8 303.9 848.7 304.6 849.6 305.4 850.6 306.1 851.5 306.8 852.5 307.5 853.5 308.2 854.4 308.9 855.4 309.6 856.4 310.2 857.4 310.9 858.4 311.6 859.4 312.2 860.5 312.8 861.5 313.5 862.5 314.1 863.5 314.7 864.5 315.4 865.6 316.0 866.6 316.6 867.6 317.3 868.6 317.9 869.6 318.6 870.6 319.2 871.6 319.9 872.6 320.6 873.6 321.3 874.6 321.9 875.6 322.6 876.6 323.3 877.6 323.9 878.6 324.6 879.6 325.3 880.6 326.0 881.5 326.7 882.5 327.4 883.5 328.0 884.5 328.7 885.5 329.4 886.5 330.1 887.4 330.8 888.4 331.5 889.4 332.3 890.3 333.0 891.3 333.7 892.2 334.5 893.2 335.2 894.1 336.0 895.0 336.8 895.9 337.5 896.9 338.3 897.8 339.1 898.7 339.8 899.7 340.5 900.6 341.3 901.6 342.0 902.5 342.7 903.5 343.3 904.5 344.0 905.5 344.7 906.5 345.3 907.5 346.0 908.5 346.6 909.5 347.3 910.5 347.9 911.6 348.6 912.6 349.2 913.6 349.8 915.1 350.7 916.6 351.6 918.1 352.4 919.6 353.3 921.1 354.1 922.6 354.9 924.1 355.7 925.6 356.5 927.1 357.3 928.6 358.1 930.1 358.8 931.6 359.6 933.1 360.3 934.6 361.0 936.1 361.8 937.6 362.5 939.1 363.2 940.6 363.8 942.1 364.5 943.6 365.2 945.1 365.9 946.6 366.6 948.1 367.2 949.6 367.9 951.1 368.6 952.6 369.2 954.1 369.9 955.6 370.6 957.1 371.2 958.6 371.9 960.1 372.5 961.6 373.2 963.1 373.8 964.6 374.4 966.1 375.0 967.6 375.7 969.1 376.3 970.6 376.9 972.1 377.6 973.6 378.2 975.1 378.9 976.6 379.5 978.1 380.2 979.6 380.9 981.1 381.6 982.6 382.3 984.1 383.0 985.6 383.7 987.1 384.4 988.6 385.1 990.1 385.8 991.6 386.6 993.1 387.3 994.6 388.0 996.1 388.7 997.6 389.4 999.1 390.2 1000.6 390.9 1002.1 391.6 1003.6 392.3 1005.1 393.0 1006.6 393.7 1008.1 394.4 1009.6 395.1 1011.1 395.9 1012.6 396.6 1014.1 397.3 1015.6 398.0 1017.1 398.7 1018.6 399.5 1020.1 400.2 1021.6 400.9 1023.1 401.6 1024.6 402.3 1026.1 403.0 1027.6 403.7 1029.1 404.4 1030.6 405.1 1032.1 405.8 1033.6 406.5 1035.1 407.1 1036.6 407.8 1038.1 408.5 1039.6 409.2 1041.1 409.9 1042.6 410.6 1044.1 411.2 1045.6 411.9 1047.1 412.6 1048.6 413.2 1050.1 413.9 1051.6 414.5 1053.1 415.1 1054.6 415.7 1056.1 416.2 1057.6 416.7 1059.1 417.2 1060.6 417.6 1062.1 418.1 1063.6 418.5 1065.1 419.0 1066.6 419.4 1068.1 419.8 1069.6 420.2 1071.1 420.5 1072.6 420.9 1074.1 421.3 1075.6 421.6 1077.1 422.0 1078.6 422.3 1080.1 422.7 1081.6 423.0 1083.1 423.4 1084.6 423.7 1086.1 424.0 1087.6 424.3 1089.1 424.7 1090.6 425.0 1092.1 425.3 1093.6 425.6 1095.1 426.0 1096.6 426.3 1098.1 426.6 1099.6 426.9 1101.1 427.3 1102.6 427.6 1104.1 427.9 1105.6 428.1 1107.1 428.4 1108.6 428.7 1110.1 429.0 1111.6 429.2 1113.1 429.5 1114.6 429.8 1116.1 430.0 1117.6 430.3 1119.1 430.6 1120.6 430.9 1122.1 431.1 1123.6 431.4 1125.1 431.7 1126.6 432.0 1128.1 432.3 1129.6 432.7 1131.1 433.0 1132.6 433.3 1134.1 433.7 1135.6 434.1 1137.1 434.5 1138.6 434.9 1140.1 435.4 1141.6 436.0 1143.1 436.6 1144.6 437.3 1146.1 437.9 1147.6 438.6 1149.1 439.2 1150.6 439.9 1152.1 440.5 1153.6 441.0 1155.1 441.5 1156.6 441.8 1158.1 442.2 1159.6 442.6 1161.1 442.9 1162.6 443.2 1164.1 443.5 1165.6 443.8 1167.1 444.1 1168.6 444.4 1170.1 444.6 1171.6 444.9 1173.1 445.1 1174.6 445.4 1176.1 445.6 1177.6 445.8 1179.1 446.0 1180.6 446.2 1182.1 446.4 1183.6 446.5 1185.1 446.7 1186.6 446.9 1188.1 447.0 1189.6 447.2 1191.1 447.3 1192.6 447.4 1194.1 447.6 1195.6 447.7 1197.1 447.8 1198.6 447.9 1200.1 448.0 1201.6 448.1 1203.1 448.2 1204.6 448.3 1206.1 448.4 1207.6 448.6 1209.1 448.7 1210.6 448.8 1212.1 448.9 1213.6 449.0 1215.1 449.1 1216.6 449.2 1218.1 449.3 1219.6 449.4 1221.1 449.5 1222.6 449.6 1224.1 449.7 1225.6 449.8 1227.1 449.9 1228.6 449.9 1230.1 450.0 1231.6 450.0 1233.1 450.1 1234.6 450.1 1236.1 450.2 1237.6 450.2 1239.1 450.2 1240.6 450.2 1242.1 450.2 1243.6 450.2 1245.1 450.2 1246.6 450.3 1248.1 450.3 1249.6 450.3 1251.1 450.3 1252.6 450.3 1254.1 450.3 1255.6 450.3 1257.1 450.3 1258.6 450.3 1260.1 450.3 1261.6 450.3 1263.1 450.3 1264.6 450.3 1266.1 450.4 1267.6 450.4 1269.1 450.4 1270.6 450.4 1272.1 450.4 1273.6 450.4 1275.1 450.4 1276.6 450.4 1278.1 450.4 1279.6 450.4 1281.1 450.4 1282.6 450.4 1284.1 450.4 1285.6 450.4 1287.1 450.4 1288.6 450.5 1290.1 450.5 1291.6 450.5 1293.1 450.5 1294.6 450.5 1296.1 450.5 1297.6 450.5 1299.1 450.5 1300.6 450.5 1302.1 450.5 1303.6 450.5 1305.1 450.5 1306.6 450.5 1308.1 450.5 1309.6 450.5 1311.1 450.5 1312.6 450.5 1314.1 450.5 1315.6 450.5 1317.1 450.5 1318.6 450.5 1320.1 450.5 1321.6 450.5 1323.1 450.5 1324.6 450.5 1326.1 450.6 1327.6 450.6 1329.1 450.6 1330.6 450.6 1332.1 450.6 1333.6 450.6 1335.1 450.6 1336.6 450.6 1338.1 450.6 1339.6 450.6 1341.1 450.6 1342.6 450.6 1344.1 450.6 1345.6 450.6 1347.1 450.6 1348.6 450.6 1350.1 450.6 1351.6 450.6 1353.1 450.6 1354.6 450.6 1356.1 450.6 1357.6 450.6 1359.1 450.6 1360.6 450.6 1362.1 450.6 1363.6 450.6 1365.1 450.6 1366.6 450.6 1368.1 450.6 1369.6 450.6 1371.1 450.6 1372.6 450.6 1374.1 450.6 1375.6 450.6 1377.1 450.6 1378.6 450.6 1380.1 450.6 1381.5 450.6" fill="none" stroke="#0656ba" stroke-width="2.6" stroke-dasharray="8 2.2 4 2.1" stroke-linejoin="round"/>
<path d="M780.5 101.9 780.7 103.1 780.8 104.3 781.0 105.5 781.1 106.7 781.3 107.8 781.5 109.0 781.6 110.2 781.8 111.4 781.9 112.6 782.1 113.8 782.3 115.0 782.4 116.2 782.6 117.4 782.7 118.5 782.9 119.7 783.1 120.9 783.2 122.1 783.4 123.3 783.5 124.5 783.7 125.7 783.9 126.9 784.0 128.1 784.2 129.3 784.4 130.4 784.5 131.6 784.7 132.8 784.8 134.0 785.0 135.2 785.2 136.4 785.3 137.6 785.5 138.8 785.6 140.0 785.8 141.1 786.0 142.3 786.1 143.5 786.3 144.7 786.4 145.9 786.6 147.1 786.8 148.3 786.9 149.5 787.1 150.7 787.2 151.8 787.4 153.0 787.6 154.2 787.7 155.4 787.9 156.6 788.0 157.8 788.2 159.0 788.4 160.2 788.5 161.4 788.7 162.6 788.8 163.8 789.0 165.0 789.1 166.1 789.3 167.3 789.4 168.5 789.6 169.7 789.8 170.9 789.9 172.1 790.1 173.3 790.2 174.5 790.4 175.7 790.5 176.8 790.7 178.0 790.8 179.2 791.0 180.4 791.2 181.6 791.3 182.8 791.5 184.0 791.6 185.1 791.8 186.3 792.0 187.5 792.1 188.7 792.3 189.9 792.5 191.1 792.6 192.3 792.8 193.4 793.0 194.6 793.2 195.8 793.3 197.0 793.5 198.2 793.7 199.3 793.9 200.5 794.1 201.7 794.3 202.9 794.4 204.0 794.6 205.2 794.8 206.4 795.0 207.6 795.2 208.7 795.4 209.9 795.6 211.1 795.8 212.3 796.1 213.5 796.3 214.6 796.5 215.8 796.7 217.0 796.9 218.2 797.1 219.3 797.3 220.5 797.5 221.7 797.8 222.9 798.0 224.1 798.2 225.2 798.4 226.4 798.6 227.6 798.8 228.8 799.0 230.0 799.3 231.2 799.5 232.3 799.7 233.5 799.9 234.7 800.1 235.9 800.3 237.1 800.5 238.3 800.7 239.5 800.9 240.7 801.1 241.8 801.3 243.0 801.5 244.2 801.7 245.4 801.9 246.6 802.1 247.8 802.3 248.9 802.5 250.1 802.7 251.3 802.9 252.5 803.1 253.7 803.3 254.9 803.5 256.0 803.7 257.2 803.9 258.4 804.1 259.6 804.3 260.8 804.5 261.9 804.7 263.1 804.9 264.3 805.1 265.5 805.3 266.6 805.5 267.8 805.7 269.0 806.0 270.1 806.2 271.3 806.4 272.5 806.7 273.6 806.9 274.8 807.2 276.0 807.4 277.1 807.7 278.3 807.9 279.5 808.2 280.6 808.4 281.8 808.7 283.0 808.9 284.1 809.2 285.3 809.5 286.5 809.7 287.6 810.0 288.8 810.3 289.9 810.6 291.1 810.9 292.3 811.2 293.4 811.5 294.6 811.7 295.7 812.0 296.9 812.3 298.0 812.7 299.2 813.0 300.3 813.3 301.5 813.6 302.6 813.9 303.8 814.3 304.9 814.6 306.1 814.9 307.2 815.3 308.3 815.6 309.5 816.0 310.6 816.3 311.8 816.7 312.9 817.1 314.1 817.4 315.2 817.8 316.4 818.1 317.5 818.5 318.7 818.8 319.8 819.1 321.0 819.5 322.2 819.8 323.3 820.1 324.5 820.5 325.6 820.8 326.8 821.2 327.9 821.5 329.0 821.8 330.2 822.2 331.3 822.6 332.4 823.0 333.5 823.4 334.6 823.8 335.7 824.2 336.9 824.7 338.0 825.1 339.1 825.5 340.2 826.0 341.3 826.4 342.4 826.9 343.5 827.3 344.6 827.8 345.7 828.2 346.8 828.7 347.9 829.2 349.0 829.7 350.1 830.2 351.2 830.7 352.2 831.2 353.3 831.7 354.4 832.2 355.5 832.8 356.5 833.3 357.6 833.8 358.7 834.4 359.7 835.0 360.8 835.5 361.8 836.1 362.9 836.7 363.9 837.3 365.0 837.8 366.0 838.4 367.0 839.0 368.1 839.6 369.1 840.2 370.1 840.8 371.2 841.5 372.2 842.1 373.2 842.7 374.2 843.3 375.2 844.0 376.2 844.6 377.2 845.3 378.2 846.0 379.2 846.6 380.2 847.3 381.2 848.0 382.1 848.8 383.1 849.5 384.0 850.2 384.9 851.0 385.8 851.8 386.7 852.6 387.6 853.4 388.5 854.2 389.3 855.1 390.2 855.9 391.0 856.7 391.9 857.6 392.7 858.5 393.5 859.3 394.3 860.2 395.1 861.2 395.8 862.1 396.5 863.1 397.2 864.1 397.8 865.6 398.6 867.1 399.2 868.6 399.7 870.1 400.3 871.6 400.7 873.1 401.0 874.6 401.3 876.1 401.4 877.6 401.5 879.1 401.6 880.6 401.7 882.1 401.7 883.6 401.8 885.1 401.8 886.6 401.8 888.1 401.8 889.6 401.8 891.1 401.8 892.6 401.8 894.1 401.8 895.6 401.8 897.1 401.8 898.6 401.8 900.1 401.8 901.6 401.8 903.1 401.8 904.6 401.8 906.1 401.8 907.6 401.8 909.1 401.8 910.6 401.8 912.1 401.8 913.6 401.8 915.1 401.8 916.6 401.8 918.1 401.8 919.6 401.8 921.1 401.8 922.6 401.8 924.1 401.8 925.6 401.8 927.1 401.8 928.6 401.8 930.1 401.8 931.6 401.8 933.1 401.8 934.6 401.8 936.1 401.8 937.6 401.8 939.1 401.8 940.6 401.8 942.1 401.8 943.6 401.8 945.1 401.8 946.6 401.8 948.1 401.8 949.6 401.8 951.1 401.8 952.6 401.8 954.1 401.8 955.6 401.8 957.1 401.8 958.6 401.8 960.1 401.8 961.6 401.8 963.1 401.8 964.6 401.8 966.1 401.8 967.6 401.8 969.1 401.8 970.6 401.8 972.1 401.8 973.6 401.8 975.1 401.8 976.6 401.8 978.1 401.8 979.6 401.8 981.1 401.8 982.6 401.8 984.1 401.8 985.6 401.8 987.1 401.8 988.6 401.8 990.1 401.8 991.6 401.8 993.1 401.8 994.6 401.8 996.1 401.8 997.6 401.8 999.1 401.8 1000.6 401.8 1002.1 401.8 1003.6 401.8 1005.1 401.8 1006.6 401.8 1008.1 401.8 1009.6 401.8 1011.1 401.8 1012.6 401.8 1014.1 401.8 1015.6 401.8 1017.1 401.8 1018.6 401.8 1020.1 401.8 1021.6 401.8 1023.1 401.8 1024.6 401.8 1026.1 401.8 1027.6 401.8 1029.1 401.8 1030.6 401.8 1032.1 401.8 1033.6 401.8 1035.1 401.8 1036.6 401.8 1038.1 401.8 1039.6 401.8 1041.1 401.8 1042.6 401.8 1044.1 401.8 1045.6 401.8 1047.1 401.8 1048.6 401.8 1050.1 401.8 1051.6 401.8 1053.1 401.8 1054.6 401.8 1056.1 401.8 1057.6 401.8 1059.1 401.8 1060.6 401.8 1062.1 401.8 1063.6 401.8 1065.1 401.8 1066.6 401.8 1068.1 401.8 1069.6 401.8 1071.1 401.8 1072.6 401.8 1074.1 401.8 1075.6 401.8 1077.1 401.8 1078.6 401.8 1080.1 401.8 1081.6 401.8 1083.1 401.8 1084.6 401.8 1086.1 401.8 1087.6 401.8 1089.1 401.8 1090.6 401.8 1092.1 401.8 1093.6 401.8 1095.1 401.8 1096.6 401.8 1098.1 401.8 1099.6 401.8 1101.1 401.8 1102.6 401.8 1104.1 401.8 1105.6 401.8 1107.1 401.8 1108.6 401.8 1110.1 401.8 1111.6 401.8 1113.1 401.8 1114.6 401.8 1116.1 401.8 1117.6 401.8 1119.1 401.8 1120.6 401.8 1122.1 401.8 1123.6 401.8 1125.1 401.8 1126.6 401.8 1128.1 401.8 1129.6 401.8 1131.1 401.8 1132.6 401.8 1134.1 401.8 1135.6 401.8 1137.1 401.8 1138.6 401.8 1140.1 401.8 1141.6 401.8 1143.1 401.8 1144.6 401.8 1146.1 401.8 1147.6 401.8 1149.1 401.8 1150.6 401.8 1152.1 401.8 1153.6 401.8 1155.1 401.8 1156.6 401.8 1158.1 401.8 1159.6 401.8 1161.1 401.8 1162.6 401.8 1164.1 401.8 1165.6 401.8 1167.1 401.8 1168.6 401.8 1170.1 401.8 1171.6 401.8 1173.1 401.8 1174.6 401.8 1176.1 401.8 1177.6 401.8 1179.1 401.8 1180.6 401.8 1182.1 401.8 1183.6 401.8 1185.1 401.8 1186.6 401.8 1188.1 401.8 1189.6 401.8 1191.1 401.8 1192.6 401.8 1194.1 401.8 1195.6 401.8 1197.1 401.8 1198.6 401.8 1200.1 401.8 1201.6 401.8 1203.1 401.8 1204.6 401.8 1206.1 401.8 1207.6 401.8 1209.1 401.8 1210.6 401.8 1212.1 401.8 1213.6 401.8 1215.1 401.8 1216.6 401.8 1218.1 401.8 1219.6 401.8 1221.1 401.8 1222.6 401.8 1224.1 401.8 1225.6 401.8 1227.1 401.8 1228.6 401.8 1230.1 401.8 1231.6 401.8 1233.1 401.8 1234.6 401.8 1236.1 401.8 1237.6 401.8 1239.1 401.8 1240.6 401.8 1242.1 401.8 1243.6 401.8 1245.1 401.8 1246.6 401.8 1248.1 401.8 1249.6 401.8 1251.1 401.8 1252.6 401.8 1254.1 401.8 1255.6 401.8 1257.1 401.8 1258.6 401.8 1260.1 401.8 1261.6 401.8 1263.1 401.8 1264.6 401.8 1266.1 401.8 1267.6 401.8 1269.1 401.8 1270.6 401.8 1272.1 401.8 1273.6 401.8 1275.1 401.8 1276.6 401.8 1278.1 401.8 1279.6 401.8 1281.1 401.8 1282.6 401.8 1284.1 401.8 1285.6 401.8 1287.1 401.8 1288.6 401.8 1290.1 401.8 1291.6 401.8 1293.1 401.8 1294.6 401.8 1296.1 401.8 1297.6 401.8 1299.1 401.8 1300.6 401.8 1302.1 401.8 1303.6 401.8 1305.1 401.8 1306.6 401.8 1308.1 401.8 1309.6 401.8 1311.1 401.8 1312.6 401.8 1314.1 401.8 1315.6 401.8 1317.1 401.8 1318.6 401.8 1320.1 401.8 1321.6 401.8 1323.1 401.8 1324.6 401.8 1326.1 401.8 1327.6 401.8 1329.1 401.8 1330.6 401.8 1332.1 401.8 1333.6 401.8 1335.1 401.8 1336.6 401.8 1338.1 401.8 1339.6 401.8 1341.1 401.8 1342.6 401.8 1344.1 401.8 1345.6 401.8 1347.1 401.8 1348.6 401.8 1350.1 401.8 1351.6 401.8 1353.1 401.8 1354.6 401.8 1356.1 401.8 1357.6 401.8 1359.1 401.8 1360.6 401.8 1362.1 401.8 1363.6 401.8 1365.1 401.8 1366.6 401.8 1368.1 401.8 1369.6 401.8 1371.1 401.8 1372.6 401.8 1374.1 401.8 1375.6 401.8 1377.1 401.8 1378.6 401.8 1380.1 401.8 1381.5 401.8" fill="none" stroke="#d02e02" stroke-width="2.6" stroke-dasharray="8 2.2 4 2.1" stroke-linejoin="round"/>
<path d="M780.5 101.9 780.6 104.0 780.8 106.1 780.9 108.2 781.1 110.3 781.2 112.4 781.4 114.5 781.5 116.5 781.7 118.6 781.8 120.7 782.0 122.8 782.1 124.8 782.3 126.9 782.4 128.9 782.6 131.0 782.7 133.1 782.9 135.1 783.0 137.1 783.2 139.2 783.3 141.2 783.5 143.3 783.6 145.3 783.8 147.3 783.9 149.3 784.1 151.4 784.2 153.4 784.4 155.5 784.5 157.6 784.7 159.7 784.8 161.9 785.0 164.0 785.1 166.2 785.3 168.3 785.4 170.5 785.6 172.6 785.7 174.8 785.9 176.9 786.0 179.0 786.2 181.0 786.3 183.1 786.5 185.0 786.6 187.0 786.8 188.9 786.9 190.7 787.1 192.5 787.2 194.3 787.4 195.9 787.5 197.5 787.7 199.0 787.8 200.5 788.0 201.9 788.1 203.3 788.3 204.6 788.4 206.0 788.6 207.3 788.7 208.6 788.9 209.9 789.0 211.2 789.2 212.4 789.3 213.7 789.5 214.9 789.6 216.1 789.8 217.3 790.0 218.5 790.1 219.7 790.3 220.9 790.4 222.0 790.6 223.2 790.7 224.4 790.9 225.6 791.1 226.8 791.2 227.9 791.4 229.1 791.6 230.3 791.8 231.5 791.9 232.6 792.1 233.8 792.3 235.0 792.5 236.2 792.7 237.4 792.9 238.5 793.1 239.7 793.3 240.9 793.5 242.1 793.7 243.2 793.9 244.4 794.1 245.6 794.3 246.8 794.5 247.9 794.7 249.1 794.9 250.3 795.2 251.4 795.4 252.6 795.6 253.8 795.8 255.0 796.1 256.1 796.3 257.3 796.6 258.5 796.8 259.6 797.0 260.8 797.3 262.0 797.6 263.1 797.8 264.3 798.1 265.4 798.3 266.6 798.6 267.8 798.9 268.9 799.2 270.1 799.5 271.2 799.8 272.4 800.1 273.5 800.4 274.7 800.7 275.8 801.0 276.9 801.4 278.1 801.7 279.2 802.1 280.3 802.4 281.4 802.8 282.6 803.2 283.7 803.6 284.8 804.0 285.9 804.4 287.0 804.8 288.1 805.3 289.2 805.7 290.3 806.2 291.4 806.7 292.5 807.1 293.6 807.6 294.7 808.1 295.8 808.6 296.9 809.1 298.0 809.6 299.1 810.1 300.2 810.6 301.3 811.0 302.4 811.5 303.5 812.0 304.6 812.5 305.7 812.9 306.8 813.4 307.9 813.9 309.0 814.4 310.1 814.9 311.2 815.4 312.3 815.9 313.4 816.4 314.4 816.9 315.5 817.4 316.6 817.9 317.7 818.4 318.8 818.9 319.9 819.4 321.0 819.9 322.0 820.4 323.1 820.9 324.2 821.5 325.3 822.0 326.3 822.5 327.4 823.0 328.5 823.6 329.6 824.1 330.7 824.6 331.7 825.1 332.8 825.7 333.9 826.2 335.0 826.7 336.1 827.2 337.1 827.8 338.2 828.3 339.3 828.8 340.4 829.3 341.4 829.9 342.5 830.4 343.6 831.0 344.6 831.5 345.7 832.1 346.7 832.7 347.7 833.3 348.8 833.9 349.8 834.6 350.8 835.2 351.7 835.9 352.7 836.6 353.6 837.4 354.6 838.1 355.5 838.9 356.4 839.6 357.3 840.4 358.2 841.2 359.1 842.0 359.9 842.9 360.8 843.7 361.7 844.6 362.5 845.4 363.3 846.3 364.1 847.2 364.9 848.1 365.7 849.0 366.5 849.9 367.2 850.8 368.0 851.8 368.7 852.7 369.5 853.7 370.2 854.6 370.9 855.6 371.6 856.6 372.2 857.6 372.9 858.6 373.5 859.6 374.1 861.1 375.0 862.6 375.9 864.1 376.7 865.6 377.5 867.1 378.2 868.6 378.9 870.1 379.5 871.6 380.2 873.1 380.8 874.6 381.4 876.1 382.1 877.6 382.8 879.1 383.5 880.6 384.2 882.1 385.0 883.6 385.8 885.1 386.6 886.6 387.4 888.1 388.3 889.6 389.2 890.7 389.8 891.7 390.5 892.7 391.1 893.7 391.8 894.7 392.5 895.6 393.2 896.6 394.0 897.5 394.7 898.5 395.5 899.4 396.3 900.3 397.1 901.1 398.0 901.9 398.9 902.8 399.8 903.5 400.7 904.3 401.7 905.1 402.6 905.8 403.6 906.5 404.5 907.3 405.5 908.0 406.5 908.7 407.5 909.4 408.4 910.1 409.4 910.8 410.4 911.4 411.4 912.1 412.4 912.8 413.4 913.5 414.4 914.1 415.5 914.7 416.5 915.3 417.5 916.0 418.6 916.6 419.6 917.2 420.7 917.8 421.7 918.4 422.7 919.0 423.7 919.6 424.8 920.2 425.8 920.9 426.8 921.5 427.8 922.2 428.7 922.9 429.7 923.5 430.7 924.2 431.7 924.9 432.7 925.6 433.7 926.3 434.7 927.0 435.7 927.6 436.7 928.3 437.7 929.0 438.7 929.6 439.7 930.3 440.7 930.9 441.8 931.5 442.8 932.1 443.9 932.7 445.0 933.2 446.0 933.8 447.1 934.3 448.2 934.8 449.3 935.3 450.4 935.9 451.5 936.4 452.5 936.9 453.6 937.4 454.7 938.0 455.8 938.5 456.8 939.0 457.9 939.6 458.9 940.2 460.0 940.7 461.0 941.3 462.0 942.0 463.0 942.6 464.0 943.3 465.0 944.0 465.9 944.7 466.9 945.4 467.9 946.1 468.8 946.8 469.8 947.6 470.7 948.3 471.6 949.1 472.6 949.8 473.5 950.6 474.4 951.4 475.3 952.1 476.2 952.9 477.1 953.7 478.0 954.5 478.9 955.3 479.8 956.2 480.6 957.0 481.5 957.8 482.4 958.6 483.3 959.4 484.1 960.3 485.0 961.1 485.8 962.0 486.7 962.8 487.5 963.7 488.4 964.5 489.2 965.4 490.0 966.3 490.8 967.1 491.6 968.0 492.4 968.9 493.2 969.8 494.0 970.7 494.8 971.6 495.6 972.5 496.4 973.5 497.1 974.4 497.9 975.3 498.7 976.2 499.4 977.2 500.2 978.1 500.9 979.1 501.6 980.0 502.4 981.0 503.1 981.9 503.8 982.9 504.5 983.8 505.2 984.8 505.9 985.8 506.6 986.8 507.3 987.8 507.9 988.8 508.6 989.8 509.2 990.8 509.8 992.3 510.7 993.8 511.5 995.3 512.2 996.8 513.0 998.3 513.7 999.8 514.4 1001.3 515.0 1002.8 515.6 1004.3 516.2 1005.8 516.7 1007.3 517.2 1008.8 517.7 1010.3 518.1 1011.8 518.5 1013.3 518.9 1014.8 519.3 1016.3 519.7 1017.8 520.0 1019.3 520.3 1020.8 520.6 1022.3 520.9 1023.8 521.2 1025.3 521.5 1026.8 521.8 1028.3 522.1 1029.8 522.3 1031.3 522.6 1032.8 522.8 1034.3 523.0 1035.8 523.2 1037.3 523.4 1038.8 523.6 1040.3 523.8 1041.8 523.9 1043.3 524.1 1044.8 524.2 1046.3 524.4 1047.8 524.5 1049.3 524.7 1050.8 524.8 1052.3 524.9 1053.8 525.0 1055.3 525.1 1056.8 525.2 1058.3 525.3 1059.8 525.3 1061.3 525.3 1062.8 525.4 1064.3 525.4 1065.8 525.4 1067.3 525.4 1068.8 525.5 1070.3 525.5 1071.8 525.5 1073.3 525.5 1074.8 525.6 1076.3 525.6 1077.8 525.6 1079.3 525.6 1080.8 525.6 1082.3 525.7 1083.8 525.7 1085.3 525.7 1086.8 525.7 1088.3 525.7 1089.8 525.8 1091.3 525.8 1092.8 525.8 1094.3 525.8 1095.8 525.8 1097.3 525.8 1098.8 525.9 1100.3 525.9 1101.8 525.9 1103.3 525.9 1104.8 525.9 1106.3 525.9 1107.8 525.9 1109.3 525.9 1110.8 526.0 1112.3 526.0 1113.8 526.0 1115.3 526.0 1116.8 526.0 1118.3 526.0 1119.8 526.0 1121.3 526.0 1122.8 526.0 1124.3 526.0 1125.8 526.1 1127.3 526.1 1128.8 526.1 1130.3 526.1 1131.8 526.1 1133.3 526.1 1134.8 526.1 1136.3 526.1 1137.8 526.1 1139.3 526.1 1140.8 526.1 1142.3 526.1 1143.8 526.1 1145.3 526.1 1146.8 526.2 1148.3 526.2 1149.8 526.2 1151.3 526.2 1152.8 526.2 1154.3 526.2 1155.8 526.2 1157.3 526.2 1158.8 526.2 1160.3 526.2 1161.8 526.2 1163.3 526.2 1164.8 526.2 1166.3 526.2 1167.8 526.2 1169.3 526.2 1170.8 526.2 1172.3 526.2 1173.8 526.2 1175.3 526.2 1176.8 526.3 1178.3 526.3 1179.8 526.3 1181.3 526.3 1182.8 526.3 1184.3 526.3 1185.8 526.3 1187.3 526.3 1188.8 526.3 1190.3 526.3 1191.8 526.3 1193.3 526.3 1194.8 526.3 1196.3 526.3 1197.8 526.3 1199.3 526.3 1200.8 526.3 1202.3 526.3 1203.8 526.3 1205.3 526.3 1206.8 526.3 1208.3 526.3 1209.8 526.3 1211.3 526.4 1212.8 526.4 1214.3 526.4 1215.8 526.4 1217.3 526.4 1218.8 526.4 1220.3 526.4 1221.8 526.4 1223.3 526.4 1224.8 526.4 1226.3 526.4 1227.8 526.4 1229.3 526.4 1230.8 526.4 1232.3 526.4 1233.8 526.4 1235.3 526.4 1236.8 526.4 1238.3 526.4 1239.8 526.4 1241.3 526.4 1242.8 526.4 1244.3 526.4 1245.8 526.4 1247.3 526.4 1248.8 526.4 1250.3 526.4 1251.8 526.5 1253.3 526.5 1254.8 526.5 1256.3 526.5 1257.8 526.5 1259.3 526.5 1260.8 526.5 1262.3 526.5 1263.8 526.5 1265.3 526.5 1266.8 526.5 1268.3 526.5 1269.8 526.5 1271.3 526.5 1272.8 526.5 1274.3 526.5 1275.8 526.5 1277.3 526.5 1278.8 526.5 1280.3 526.5 1281.8 526.5 1283.3 526.5 1284.8 526.5 1286.3 526.5 1287.8 526.5 1289.3 526.5 1290.8 526.5 1292.3 526.5 1293.8 526.5 1295.3 526.5 1296.8 526.5 1298.3 526.5 1299.8 526.5 1301.3 526.5 1302.8 526.5 1304.3 526.5 1305.8 526.5 1307.3 526.5 1308.8 526.6 1310.3 526.6 1311.8 526.6 1313.3 526.6 1314.8 526.6 1316.3 526.6 1317.8 526.6 1319.3 526.6 1320.8 526.6 1322.3 526.6 1323.8 526.6 1325.3 526.6 1326.8 526.6 1328.3 526.6 1329.8 526.6 1331.3 526.6 1332.8 526.6 1334.3 526.6 1335.8 526.6 1337.3 526.6 1338.8 526.6 1340.3 526.6 1341.8 526.6 1343.3 526.6 1344.8 526.6 1346.3 526.6 1347.8 526.6 1349.3 526.6 1350.8 526.6 1352.3 526.6 1353.8 526.6 1355.3 526.6 1356.8 526.6 1358.3 526.6 1359.8 526.6 1361.3 526.6 1362.8 526.6 1364.3 526.6 1365.8 526.6 1367.3 526.6 1368.8 526.6 1370.3 526.6 1371.8 526.6 1373.3 526.6 1374.8 526.6 1376.3 526.6 1377.8 526.6 1379.3 526.6 1380.8 526.6 1381.5 526.6" fill="none" stroke="#680c88" stroke-width="2.6" stroke-dasharray="8 2.2 4 2.1" stroke-linejoin="round"/>
<rect x="946.2" y="67.6" width="393.2" height="173.2" fill="#fff" stroke="#262626" stroke-width="1"/>
<path d="M951.2 83.7 H985.8" stroke="#0656ba" stroke-width="2.5" fill="none"/>
<text x="990.4" y="92.2" font-family='"Liberation Sans", sans-serif' font-size="21.9" font-weight="bold" font-style="italic" fill="#000" textLength="253.7" lengthAdjust="spacingAndGlyphs">VFSA for initial phase(a)</text>
<path d="M951.2 111.7 H985.8" stroke="#d02e02" stroke-width="2.5" fill="none"/>
<text x="990.4" y="120.3" font-family='"Liberation Sans", sans-serif' font-size="21.9" font-weight="bold" font-style="italic" fill="#000" textLength="257.0" lengthAdjust="spacingAndGlyphs">Misell for initial phase(a)</text>
<path d="M951.2 139.8 H985.8" stroke="#680c88" stroke-width="2.5" fill="none"/>
<text x="990.4" y="148.4" font-family='"Liberation Sans", sans-serif' font-size="21.9" font-weight="bold" font-style="italic" fill="#000" textLength="341.4" lengthAdjust="spacingAndGlyphs">MVFSA-Misell for initial phase(a)</text>
<path d="M951.2 168.2 H985.8" stroke="#0656ba" stroke-width="2.5" stroke-dasharray="8 2.2 4 2.1" fill="none"/>
<text x="990.4" y="176.5" font-family='"Liberation Sans", sans-serif' font-size="21.9" font-weight="bold" font-style="italic" fill="#000" textLength="254.9" lengthAdjust="spacingAndGlyphs">VFSA for initial phase(b)</text>
<path d="M951.2 196.2 H985.8" stroke="#d02e02" stroke-width="2.5" stroke-dasharray="8 2.2 4 2.1" fill="none"/>
<text x="990.4" y="204.6" font-family='"Liberation Sans", sans-serif' font-size="21.9" font-weight="bold" font-style="italic" fill="#000" textLength="258.2" lengthAdjust="spacingAndGlyphs">Misell for initial phase(b)</text>
<path d="M951.2 224.3 H985.8" stroke="#680c88" stroke-width="2.5" stroke-dasharray="8 2.2 4 2.1" fill="none"/>
<text x="990.4" y="232.7" font-family='"Liberation Sans", sans-serif' font-size="21.9" font-weight="bold" font-style="italic" fill="#000" textLength="342.6" lengthAdjust="spacingAndGlyphs">MVFSA-Misell for initial phase(b)</text>
<text x="917.3" y="96.2" font-family='"Liberation Serif", serif' font-size="23" font-weight="bold" font-style="italic" fill="#000" text-anchor="start" stroke="#000" stroke-width="0.3">A</text>
<text x="917.3" y="123.3" font-family='"Liberation Serif", serif' font-size="23" font-weight="bold" font-style="italic" fill="#000" text-anchor="start" stroke="#000" stroke-width="0.3">B</text>
<text x="917.3" y="150.7" font-family='"Liberation Serif", serif' font-size="23" font-weight="bold" font-style="italic" fill="#000" text-anchor="start" stroke="#000" stroke-width="0.3">C</text>
<text x="917.3" y="178.7" font-family='"Liberation Serif", serif' font-size="23" font-weight="bold" font-style="italic" fill="#000" text-anchor="start" stroke="#000" stroke-width="0.3">D</text>
<text x="917.3" y="206.0" font-family='"Liberation Serif", serif' font-size="23" font-weight="bold" font-style="italic" fill="#000" text-anchor="start" stroke="#000" stroke-width="0.3">E</text>
<text x="917.3" y="233.5" font-family='"Liberation Serif", serif' font-size="23" font-weight="bold" font-style="italic" fill="#000" text-anchor="start" stroke="#000" stroke-width="0.3">F</text>
<text x="407.0" y="581.5" font-family='"Liberation Serif", serif' font-size="28.6" font-weight="bold" font-style="italic" fill="#000" text-anchor="middle" stroke="#000" stroke-width="0.3">Iteration</text>
<text x="1120.0" y="581.5" font-family='"Liberation Serif", serif' font-size="28.6" font-weight="bold" font-style="italic" fill="#000" text-anchor="middle" stroke="#000" stroke-width="0.3">Iteration</text>
<text transform="translate(21 470.4) rotate(-90)" font-family='"Liberation Serif", serif' font-size="28.5" font-weight="bold" font-style="italic" fill="#000" stroke="#000" stroke-width="0.3">RMSE of surface error (mm)</text>
<text transform="translate(732.7 472) rotate(-90)" font-family='"Liberation Serif", serif' font-size="28.5" font-weight="bold" font-style="italic" fill="#000" stroke="#000" stroke-width="0.3">RMSE of surface error (mm)</text>
<path d="M190.6 286.4 L226.6 280.7" stroke="#285ac8" stroke-width="2.2" fill="none"/>
<path d="M233.5 279.6 L225.7 284.7 L224.5 277.2 Z" fill="#285ac8"/>
<text x="241.6" y="292.0" font-family='"Liberation Serif", serif' font-size="27" font-weight="bold" font-style="italic" fill="#000" text-anchor="start" stroke="#000" stroke-width="0.3">D</text>
<path d="M476.6 324.3 L497.3 301.8" stroke="#285ac8" stroke-width="2.2" fill="none"/>
<path d="M502.0 296.6 L499.1 305.4 L493.5 300.3 Z" fill="#285ac8"/>
<text x="509.5" y="294.2" font-family='"Liberation Serif", serif' font-size="27" font-weight="bold" font-style="italic" fill="#000" text-anchor="start" stroke="#000" stroke-width="0.3">E</text>
<path d="M371.0 384.0 L397.2 369.7" stroke="#285ac8" stroke-width="2.2" fill="none"/>
<path d="M403.3 366.4 L397.7 373.8 L394.0 367.1 Z" fill="#285ac8"/>
<text x="404.5" y="365.6" font-family='"Liberation Serif", serif' font-size="27" font-weight="bold" font-style="italic" fill="#000" text-anchor="start" stroke="#000" stroke-width="0.3">A</text>
<path d="M487.3 400.5 L511.1 381.7" stroke="#285ac8" stroke-width="2.2" fill="none"/>
<path d="M516.6 377.4 L512.3 385.6 L507.6 379.7 Z" fill="#285ac8"/>
<text x="510.3" y="371.0" font-family='"Liberation Serif", serif' font-size="27" font-weight="bold" font-style="italic" fill="#000" text-anchor="start" stroke="#000" stroke-width="0.3">B</text>
<path d="M183.4 382.0 L191.8 363.1" stroke="#285ac8" stroke-width="2.2" fill="none"/>
<path d="M194.6 356.7 L194.6 366.0 L187.7 362.9 Z" fill="#285ac8"/>
<text x="184.7" y="354.8" font-family='"Liberation Serif", serif' font-size="27" font-weight="bold" font-style="italic" fill="#000" text-anchor="start" stroke="#000" stroke-width="0.3">F</text>
<path d="M176.0 389.4 L173.2 439.8" stroke="#285ac8" stroke-width="2.2" fill="none"/>
<path d="M172.8 446.8 L169.5 438.1 L177.1 438.5 Z" fill="#285ac8"/>
<text x="168.8" y="470.6" font-family='"Liberation Serif", serif' font-size="27" font-weight="bold" font-style="italic" fill="#000" text-anchor="start" stroke="#000" stroke-width="0.3">C</text>
<path d="M889.7 331.3 L915.8 316.9" stroke="#285ac8" stroke-width="2.2" fill="none"/>
<path d="M921.9 313.5 L916.3 320.9 L912.6 314.3 Z" fill="#285ac8"/>
<text x="922.0" y="312.6" font-family='"Liberation Serif", serif' font-size="27" font-weight="bold" font-style="italic" fill="#000" text-anchor="start" stroke="#000" stroke-width="0.3">D</text>
<path d="M908.2 367.0 L949.3 337.5" stroke="#285ac8" stroke-width="2.2" fill="none"/>
<path d="M955.0 333.4 L950.3 341.4 L945.9 335.3 Z" fill="#285ac8"/>
<text x="956.0" y="330.8" font-family='"Liberation Serif", serif' font-size="27" font-weight="bold" font-style="italic" fill="#000" text-anchor="start" stroke="#000" stroke-width="0.3">A</text>
<path d="M1165.3 400.2 L1186.2 376.9" stroke="#285ac8" stroke-width="2.2" fill="none"/>
<path d="M1190.9 371.7 L1188.0 380.6 L1182.4 375.5 Z" fill="#285ac8"/>
<text x="1198.0" y="369.0" font-family='"Liberation Serif", serif' font-size="27" font-weight="bold" font-style="italic" fill="#000" text-anchor="start" stroke="#000" stroke-width="0.3">E</text>
<path d="M1100.6 447.8 L1132.0 478.5" stroke="#285ac8" stroke-width="2.2" fill="none"/>
<path d="M1137.0 483.4 L1128.3 480.2 L1133.6 474.7 Z" fill="#285ac8"/>
<text x="1142.3" y="494.5" font-family='"Liberation Serif", serif' font-size="27" font-weight="bold" font-style="italic" fill="#000" text-anchor="start" stroke="#000" stroke-width="0.3">B</text>
<path d="M980.0 490.0 L1015.8 467.0" stroke="#285ac8" stroke-width="2.2" fill="none"/>
<path d="M1021.7 463.2 L1016.6 471.0 L1012.5 464.6 Z" fill="#285ac8"/>
<text x="1023.4" y="475.0" font-family='"Liberation Serif", serif' font-size="27" font-weight="bold" font-style="italic" fill="#000" text-anchor="start" stroke="#000" stroke-width="0.3">C</text>
<path d="M941.8 466.8 L947.8 492.7" stroke="#285ac8" stroke-width="2.2" fill="none"/>
<path d="M949.4 499.5 L943.8 492.1 L951.2 490.4 Z" fill="#285ac8"/>
<text x="941.8" y="519.5" font-family='"Liberation Serif", serif' font-size="27" font-weight="bold" font-style="italic" fill="#000" text-anchor="start" stroke="#000" stroke-width="0.3">F</text>
<path d="M152.0 369.5 V520.0" stroke="#000" stroke-width="2.6" fill="none" stroke-dasharray="9 3.5" stroke-linecap="butt"/>
<path d="M214.0 400.5 V516.0" stroke="#000" stroke-width="2.6" fill="none" stroke-dasharray="9 3.5" stroke-linecap="butt"/>
<path d="M65.8 525.5 Q66.5 536.0 76.0 536.0 H99.3 Q107.3 536.0 108.3 545.0 V559.5" stroke="#000" stroke-width="2.6" fill="none" stroke-dasharray="9 3.5" stroke-linecap="butt"/>
<path d="M108.3 545.0 Q109.3 536.0 117.3 536.0 H143.0 Q151.5 536.0 152.0 527.0 V520" stroke="#000" stroke-width="2.6" fill="none" stroke-dasharray="9 3.5" stroke-linecap="butt"/>
<path d="M152.0 527.0 Q153.0 533.0 161.0 533.0 H174.3 Q181.3 533.0 182.3 542.0 V557.5" stroke="#000" stroke-width="2.6" fill="none" stroke-dasharray="9 3.5" stroke-linecap="butt"/>
<path d="M182.3 542.0 Q183.3 533.0 190.3 533.0 H205.0 Q213.5 533.0 214.0 523.0 V516" stroke="#000" stroke-width="2.6" fill="none" stroke-dasharray="9 3.5" stroke-linecap="butt"/>
<path d="M234.3 544.0 H298.0" stroke="#000" stroke-width="2.7" fill="none" stroke-dasharray="8 3"/>
<path d="M304.9 544.0 l-8.4 -4 v8 Z" fill="#000"/>
<rect x="65.6" y="553.3" width="77.0" height="50.7" stroke="#0c167a" stroke-width="1.7" fill="none" stroke-dasharray="5.4 2.7"/>
<rect x="147.0" y="553.3" width="76.7" height="50.7" stroke="#0c167a" stroke-width="1.7" fill="none" stroke-dasharray="5.4 2.7"/>
<rect x="227.0" y="553.3" width="79.2" height="50.7" stroke="#0c167a" stroke-width="1.7" fill="none" stroke-dasharray="5.4 2.7"/>
<text x="73.6" y="572.0" font-family='"Liberation Serif", serif' font-size="17" font-weight="bold" font-style="italic" fill="#000" text-anchor="start" stroke="#000" stroke-width="0.3">MVFSA:</text>
<text x="73.6" y="593.0" font-family='"Liberation Serif", serif' font-size="17" font-weight="bold" font-style="italic" fill="#000" text-anchor="start" stroke="#000" stroke-width="0.3">stage1</text>
<text x="155.0" y="573.0" font-family='"Liberation Serif", serif' font-size="17" font-weight="bold" font-style="italic" fill="#000" text-anchor="start" stroke="#000" stroke-width="0.3">MVFSA:</text>
<text x="155.0" y="594.0" font-family='"Liberation Serif", serif' font-size="17" font-weight="bold" font-style="italic" fill="#000" text-anchor="start" stroke="#000" stroke-width="0.3">stage2</text>
<text x="230.8" y="574.0" font-family='"Liberation Serif", serif' font-size="17" font-weight="bold" font-style="italic" fill="#000" text-anchor="start" stroke="#000" stroke-width="0.3">Misell</text>
<text x="230.8" y="594.5" font-family='"Liberation Serif", serif' font-size="17" font-weight="bold" font-style="italic" fill="#000" text-anchor="start" stroke="#000" stroke-width="0.3">algorithm</text>
<path d="M864.2 369.3 V520.0" stroke="#000" stroke-width="2.6" fill="none" stroke-dasharray="9 3.5" stroke-linecap="butt"/>
<path d="M925.4 427.0 V516.0" stroke="#000" stroke-width="2.6" fill="none" stroke-dasharray="9 3.5" stroke-linecap="butt"/>
<path d="M778.3 528.1 Q779.0 536.0 788.5 536.0 H811.8 Q819.8 536.0 820.8 545.0 V559.5" stroke="#000" stroke-width="2.6" fill="none" stroke-dasharray="9 3.5" stroke-linecap="butt"/>
<path d="M820.8 545.0 Q821.8 536.0 829.8 536.0 H855.2 Q863.7 536.0 864.2 527.0 V520" stroke="#000" stroke-width="2.6" fill="none" stroke-dasharray="9 3.5" stroke-linecap="butt"/>
<path d="M864.2 527.0 Q865.2 533.0 873.2 533.0 H886.8 Q893.8 533.0 894.8 542.0 V557.5" stroke="#000" stroke-width="2.6" fill="none" stroke-dasharray="9 3.5" stroke-linecap="butt"/>
<path d="M894.8 542.0 Q895.8 533.0 902.8 533.0 H916.4 Q924.9 533.0 925.4 523.0 V516" stroke="#000" stroke-width="2.6" fill="none" stroke-dasharray="9 3.5" stroke-linecap="butt"/>
<path d="M946.8 544.0 H1010.5" stroke="#000" stroke-width="2.7" fill="none" stroke-dasharray="8 3"/>
<path d="M1017.4 544.0 l-8.4 -4 v8 Z" fill="#000"/>
<rect x="778.0" y="553.3" width="75.8" height="50.7" stroke="#0c167a" stroke-width="1.7" fill="none" stroke-dasharray="5.4 2.7"/>
<rect x="858.7" y="553.3" width="76.5" height="50.7" stroke="#0c167a" stroke-width="1.7" fill="none" stroke-dasharray="5.4 2.7"/>
<rect x="938.9" y="553.3" width="79.7" height="50.7" stroke="#0c167a" stroke-width="1.7" fill="none" stroke-dasharray="5.4 2.7"/>
<text x="786.0" y="572.0" font-family='"Liberation Serif", serif' font-size="17" font-weight="bold" font-style="italic" fill="#000" text-anchor="start" stroke="#000" stroke-width="0.3">MVFSA:</text>
<text x="786.0" y="593.0" font-family='"Liberation Serif", serif' font-size="17" font-weight="bold" font-style="italic" fill="#000" text-anchor="start" stroke="#000" stroke-width="0.3">stage1</text>
<text x="866.7" y="573.0" font-family='"Liberation Serif", serif' font-size="17" font-weight="bold" font-style="italic" fill="#000" text-anchor="start" stroke="#000" stroke-width="0.3">MVFSA:</text>
<text x="866.7" y="594.0" font-family='"Liberation Serif", serif' font-size="17" font-weight="bold" font-style="italic" fill="#000" text-anchor="start" stroke="#000" stroke-width="0.3">stage2</text>
<text x="942.7" y="574.0" font-family='"Liberation Serif", serif' font-size="17" font-weight="bold" font-style="italic" fill="#000" text-anchor="start" stroke="#000" stroke-width="0.3">Misell</text>
<text x="942.7" y="594.5" font-family='"Liberation Serif", serif' font-size="17" font-weight="bold" font-style="italic" fill="#000" text-anchor="start" stroke="#000" stroke-width="0.3">algorithm</text>
</svg>
</body>
</html>
